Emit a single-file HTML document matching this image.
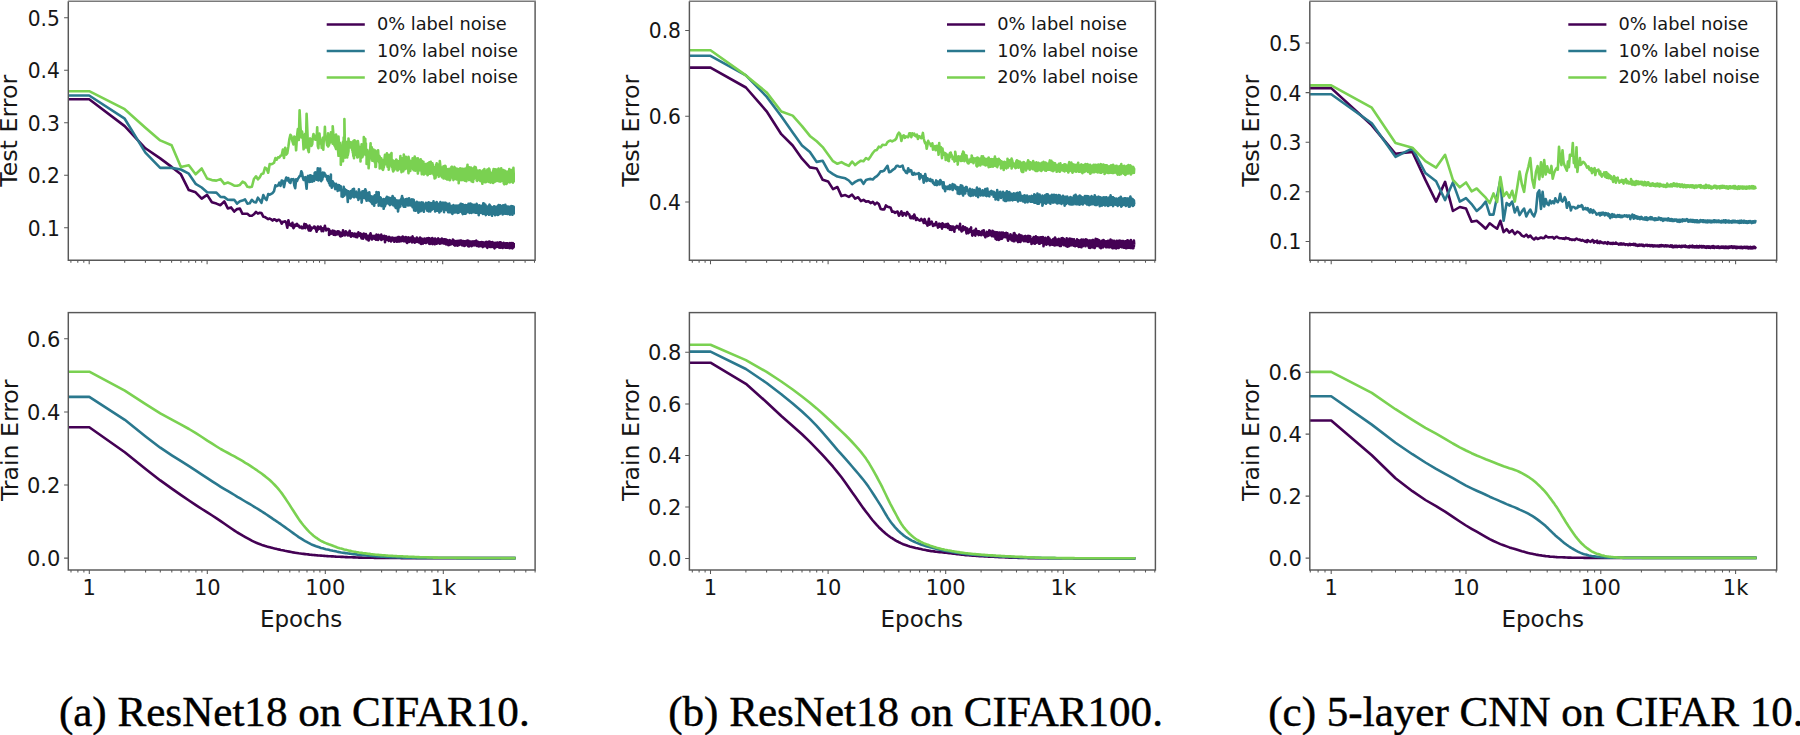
<!DOCTYPE html>
<html lang="en"><head><meta charset="utf-8"><title>Training curves with label noise</title>
<style>html,body{margin:0;padding:0;background:#fff;overflow:hidden}svg{display:block}.dv{font-family:"DejaVu Sans","Liberation Sans",sans-serif;fill:#161616}.cap{font-family:"Liberation Serif","DejaVu Serif",serif;fill:#000}.ln path{fill:none;stroke-linejoin:round;stroke-linecap:square}</style></head><body>
<svg width="1800" height="735" viewBox="0 0 1800 735">
<rect width="1800" height="735" fill="#fff"/>
<g class="dv" id="A1">
<g class="ln">
<path d="M69.6 99.2L89.2 99.2L124.7 126.1L145.4 148.3L160.2 158.4L171.6 166.9L180.9 174.3L188.8 190.1L195.6 192.3L201.7 198.6L207.1 194.9L211.9 202.3L216.4 203.6L220.5 205.2L224.3 201.4L227.8 208.4L231.1 207.4L234.2 211.6L237.1 209.1L239.9 208.6L242.5 213.8L245 213.7L247.4 213.8L249.7 215.7L251.9 215.7L253.9 214.3L256 211.9L257.9 213.6L259.7 212.8L261.5 213.1L263.3 216.7L265 217.1L266.6 218.1L268.2 219.1L269.7 218.5L271.2 219.4L272.6 220.6L274 219.2L275.4 219.8L276.7 221L278 219.9L279.3 219.9L280.5 221.2L281.7 223.7L282.9 221.9L284 221.7L285.2 221.3L286.3 223.1L287.3 227.7L288.4 220.2L289.4 224.9L290.4 224.1L291.4 226L292.4 222.8L293.4 228.1L294.3 226.9L295.2 224.6L296.1 225.7L297 223.9L297.9 225.9L298.8 225.6L299.6 227.4L300.4 227.2L301.3 226.7L302.1 228.3L302.9 228.2L303.6 227.6L304.4 223.9L305.2 228.1L305.9 224.4L306.6 225.3L307.4 226.9L308.1 228.6L308.8 230.4L309.5 225.5L310.2 230.7L310.9 230.3L311.5 227.6L312.2 228.3L312.8 227.9L313.5 227.7L314.1 226.5L314.7 226.7L315.4 228.7L316 229.2L316.6 231.7L317.2 228.1L317.8 226.5L318.4 229.4L318.9 227.8L319.5 228.7L320.1 227.3L320.6 226.6L321.2 228.9L321.7 231.1L322.3 230.6L322.8 228.3L323.3 231.1L323.9 227.7L324.4 229.1L324.9 225.8L325.4 228.9L326.2 228.6L326.2 230.4L327.2 229.3L327.2 229.6L328.1 229.3L328.1 228.8L329.1 229.4L329.1 235L330 230.7L330 234L330.9 231.4L330.9 233.7L331.8 233.3L331.8 231.9L332.7 230.8L332.7 230.5L333.6 234.7L333.6 231.1L334.4 231L334.4 234.6L335.3 235L335.3 233.1L336.1 232.4L336.1 231.8L336.9 234.4L336.9 233.3L337.7 231.4L337.7 233.1L338.5 234L338.5 231.4L339.3 231.7L339.3 234.1L340.1 236L340.1 234.2L340.8 233L340.8 236.4L341.6 232.7L341.6 233.6L342.3 234.9L342.3 235.8L343 234.9L343 230.2L343.7 234.9L343.7 234.5L344.4 233.5L344.4 234.5L345.1 235.3L345.1 233.9L345.8 232.6L345.8 231.3L346.5 234.3L346.5 234L347.2 233.9L347.2 233.2L347.8 235L347.8 235.5L348.5 234.9L348.5 232.4L349.1 235L349.1 234L349.7 230.7L349.7 235.5L350.4 232.8L350.4 234L351 236.8L351 236L351.6 234.4L351.6 234L352.2 235.7L352.2 233.2L352.8 235.5L352.8 234.8L353.4 236.1L353.4 235L354 233.9L354 236.1L354.6 235.1L354.6 233.5L355.1 234.6L355.1 234.1L355.7 235.7L355.7 237L356.2 235.6L356.2 233.8L356.8 235L356.8 236L357.3 237.2L357.3 234.2L357.9 236L357.9 235.4L358.4 232.4L358.4 233.6L358.9 234.9L359.5 234.6L359.5 234.4L360 235.8L360 234.5L360.5 233.4L360.5 235.8L361 234L361 236.3L361.6 238.3L361.6 234.2L362.4 234.4L362.4 238L363.1 235.6L363.1 238.7L363.8 237.1L363.8 233.5L364.6 234.8L364.6 236.7L365.3 234.5L365.3 236L365.9 234L365.9 237.5L366.6 239.2L366.6 236.9L367.3 235.6L367.3 237.6L368 236L368 239.7L368.6 238.4L368.6 240.5L369.3 238.5L369.3 236.5L369.9 234.7L369.9 236.4L370.6 233.3L370.6 237.8L371.2 234.9L371.2 238L371.8 236.1L371.8 239.5L372.4 237.8L373 237.4L373 236L373.6 238.4L373.6 236.1L374.2 238.7L374.2 236.7L374.8 237.2L374.8 237.9L375.4 238.4L375.4 235.5L375.9 236.4L375.9 239.7L376.5 234.6L376.5 239.7L377 239.2L377 237.5L377.6 238.2L377.6 236.9L378.1 240L378.1 236.9L378.7 234.9L378.7 236.3L379.2 238L379.2 236.3L379.7 236.3L379.7 238.5L380.3 235.9L380.3 237.8L380.8 236.7L380.8 239.3L381.3 234.6L381.3 239.9L381.8 237.3L381.8 239.2L382.4 237.5L382.4 239.2L383.1 238.3L383.1 236.4L383.7 236.6L383.7 239L384.4 238L384.4 235.8L385 238L385 242.2L385.6 239L385.6 237.7L386.2 239.4L386.2 236.2L386.9 238.3L386.9 239.7L387.5 239.7L387.5 237.4L388.1 237.9L388.1 239.1L388.7 240.8L388.7 238L389.2 240L389.2 236.9L389.8 237.4L389.8 239.7L390.4 239.4L390.4 238L391 241.4L391 238.8L391.5 240.8L391.5 237.7L392.1 239.2L392.1 238.5L392.6 239.4L392.6 237.6L393.2 238.3L393.2 239.2L393.7 238.1L393.7 240.8L394.2 238.1L394.2 241.7L394.8 240L394.8 238.2L395.3 238.1L395.3 240.9L395.8 239.6L395.8 238.8L396.3 239.9L396.3 237.8L396.8 237.9L396.8 241.8L397.4 241.3L397.4 238.1L398 237.2L398 239.5L398.6 237.2L398.6 241.4L399.2 237L399.2 239.6L399.8 241.4L399.8 237.5L400.4 239L400.4 240.1L401 237.5L401 239.4L401.5 238.4L401.5 241.1L402.1 239L402.1 239.9L402.7 236.6L402.7 239.8L403.2 236.9L403.2 240.4L403.8 241.2L403.8 237.3L404.3 241.3L404.3 240.4L404.9 238.5L404.9 240.2L405.4 239.6L405.4 240.6L405.9 237.1L405.9 240.6L406.4 238.1L406.4 241.9L407 243L407 239.4L407.5 238.2L407.5 241.5L408 239.4L408 241.5L408.5 240L408.5 237.4L409.1 237.9L409.1 242L409.7 238.7L409.7 240.5L410.3 241.1L410.3 237.7L410.9 240.5L410.9 237.9L411.4 237.6L411.4 241.3L412 242.3L412 238L412.6 236.4L412.6 241.4L413.1 241.6L413.1 238.4L413.7 240.7L413.7 238.3L414.2 242.1L414.2 239.4L414.7 238.9L414.7 242.7L415.3 238.8L415.3 241.8L415.8 238.7L415.8 240.1L416.3 241.8L416.3 239.2L416.8 237.6L416.8 241L417.3 238.1L417.3 241.6L417.9 241.9L417.9 240L418.4 241.8L418.4 239.2L419 242.5L419 238.7L419.6 242.1L419.6 240.1L420.1 237.5L420.1 242.2L420.7 239L420.7 243.6L421.2 243.9L421.2 239.5L421.8 238.5L421.8 241.7L422.3 242L422.3 239.8L422.9 243.6L422.9 239.7L423.4 239.3L423.4 241.9L423.9 242.3L423.9 240.8L424.4 242.7L424.4 238.6L424.9 242.3L424.9 238.9L425.4 239.2L425.4 242.4L426 240.3L426 243.1L426.5 241.8L426.5 238.6L427.1 242.1L427.1 238.4L427.6 238.6L427.6 240.7L428.2 238.9L428.2 241.3L428.7 238.1L428.7 242.8L429.3 243.7L429.3 240.5L429.8 243.9L429.8 238.6L430.3 243.8L430.3 240.1L430.8 240.3L430.8 242.7L431.4 243L431.4 240.1L431.9 238.3L431.9 243.6L432.4 244L432.4 238L432.9 243.3L432.9 238.7L433.5 242.4L433.5 239.6L434 242.7L434 239.6L434.6 239.6L434.6 244.3L435.1 238.6L435.1 243L435.6 242.5L435.6 239L436.1 241.2L436.1 243L436.7 243.7L436.7 240L437.2 242.8L437.2 239.9L437.7 242.1L437.7 239.4L438.2 238.4L438.2 243L438.7 239.4L438.7 242.9L439.3 242.5L439.3 240.1L439.8 243.7L439.8 239.5L440.4 239.6L440.4 241.5L440.9 242.7L440.9 239.7L441.4 243.1L441.4 240L441.9 242.2L441.9 238.5L442.5 240.1L442.5 242.8L443 243.1L443 239.5L443.5 243.5L443.5 240.6L444 242.6L444 239.2L444.6 239.5L444.6 242.5L445.1 242.9L445.1 239.9L445.6 239.4L445.6 244L446.2 240.6L446.2 244.4L446.7 239.8L446.7 243.8L447.2 243.6L447.2 240.1L447.7 240.3L447.7 244.5L448.2 241.8L448.2 245.1L448.7 243.2L448.7 241.2L449.3 244.9L449.3 241.1L449.8 240.1L449.8 243.9L450.3 243.9L450.3 241.1L450.9 241.1L450.9 244.5L451.4 243.9L451.4 241.9L451.9 242.3L451.9 243.9L452.4 240.6L452.4 243.5L452.9 242.5L452.9 239.5L453.4 240.7L453.4 243.8L454 245L454 241.2L454.5 244.4L454.5 240.9L455 241.3L455 245.6L455.5 245.4L455.5 242L456.1 244.9L456.1 241L456.6 241.2L456.6 244.9L457.1 244.8L457.1 241.5L457.6 242L457.6 245.7L458.1 244.7L458.1 240.7L458.7 241.4L458.7 245.1L459.2 241.2L459.2 245L459.7 241.5L459.7 244.2L460.2 244.1L460.2 240.6L460.7 243.5L460.7 241L461.2 244.4L461.2 240.6L461.8 241.1L461.8 244.9L462.3 241.4L462.3 245.4L462.8 241.2L462.8 244.6L463.3 244.3L463.3 241L463.8 242.3L463.8 245.2L464.3 241.4L464.3 246L464.9 242L464.9 244.4L465.4 245.3L465.4 241.5L465.9 244.6L465.9 241.2L466.4 241L466.4 243.8L466.9 243.8L466.9 241.3L467.5 244.6L467.5 240.6L468 241.9L468 246.1L468.5 245.7L468.5 240.7L469 242.4L469 246.5L469.5 244.5L469.5 241.2L470 241.8L470 245.3L470.5 241.5L470.5 245.5L471 245.6L471 242.3L471.6 241.8L471.6 246.2L472.1 245L472.1 241.6L472.6 245.5L472.6 241.8L473.1 241.3L473.1 245.3L473.6 241.5L473.6 244.9L474.1 245.4L474.1 241.5L474.6 244.5L474.6 241.3L475.2 241.7L475.2 245.1L475.7 244.8L475.7 241.5L476.2 240.7L476.2 243.8L476.7 242.2L476.7 245.8L477.2 246L477.2 242.6L477.7 244.5L477.7 241.7L478.2 242L478.2 245.5L478.7 246.3L478.7 243.2L479.3 242.7L479.3 245.1L479.8 246.1L479.8 242.3L480.3 242.6L480.3 245.4L480.8 245.6L480.8 242.3L481.3 246L481.3 243.1L481.8 245.5L481.8 242.1L482.3 242.5L482.3 246.4L482.8 242.9L482.8 247.1L483.3 245.8L483.3 242.4L483.9 242.6L483.9 245.9L484.4 242.8L484.4 246.2L484.9 243.1L484.9 246.2L485.4 242.6L485.4 246.3L485.9 242.1L485.9 245.8L486.4 246.4L486.4 241.9L486.9 242L486.9 246.3L487.4 247.8L487.4 242.9L488 245.4L488 242.5L488.5 241.9L488.5 245.7L489 246.5L489 243.2L489.5 245.5L489.5 241.6L490 242.6L490 246.9L490.5 242.1L490.5 246.5L491 242.8L491 246L491.5 242.4L491.5 246.9L492 246.4L492 243.2L492.5 245.9L492.5 242.1L493.1 244L493.1 246.8L493.6 247.3L493.6 243.3L494.1 242.9L494.1 247L494.6 248.3L494.6 243.7L495.1 247L495.1 243.6L495.6 242.9L495.6 246.6L496.1 243L496.1 246.7L496.6 242.8L496.6 246.9L497.1 246.6L497.1 242.7L497.6 242.5L497.6 246.6L498.1 246.8L498.1 244L498.6 243.1L498.6 246.5L499.2 247.6L499.2 243.1L499.7 242.3L499.7 247.1L500.2 244L500.2 247.3L500.7 247.6L500.7 242.4L501.2 247.4L501.2 243.6L501.7 244.1L501.7 247.5L502.2 247.4L502.2 243.5L502.7 248L502.7 243.9L503.2 243L503.2 246.4L503.7 242.9L503.7 246.9L504.2 247L504.2 243.4L504.7 246.4L504.7 243.4L505.3 243.7L505.3 247.8L505.8 247.4L505.8 243.4L506.3 243.4L506.3 247.8L506.8 246.6L506.8 243.2L507.3 243.7L507.3 246.9L507.8 243.3L507.8 247.7L508.3 243.8L508.3 247.2L508.8 243.8L508.8 247.4L509.3 248.1L509.3 244L509.8 243.2L509.8 247.5L510.3 247.7L510.3 244L510.8 244.2L510.8 248L511.3 247.3L511.3 243L511.8 244.3L511.8 247.8L512.4 248.4L512.4 243.9L512.9 243.1L512.9 247L513.4 244.4L513.4 247.6L513.7 246.9L513.7 244.3" stroke="#440154" stroke-width="2.6"/>
<path d="M69.6 95.5L89.2 95.5L124.7 118.7L145.4 152.6L160.2 167.9L171.6 167.9L180.9 169.5L188.8 173.7L195.6 183.8L201.7 187.5L207.1 192.3L211.9 192.5L216.4 192.6L220.5 196.9L224.3 197.1L227.8 199.8L231.1 199.9L234.2 199.8L237.1 203.6L239.9 201.3L242.5 200.6L245 199.4L247.4 203.7L249.7 203.3L251.9 199.8L253.9 201.9L256 202.4L257.9 197.7L259.7 200L261.5 202.8L263.3 195.1L265 198.4L266.6 200L268.2 194L269.7 194.7L271.2 193.8L272.6 193.1L274 191.2L275.4 185.2L276.7 186.1L278 185.5L279.3 182.7L280.5 185.9L281.7 180.5L282.9 180.9L284 187.1L285.2 180.9L286.3 177.5L287.3 180.4L288.4 178.2L289.4 182.3L290.4 183L291.4 179.2L292.4 179.5L293.4 179.1L294.3 185.4L295.2 188.2L296.1 179.4L297 181L297.9 178.7L298.8 177.4L299.6 176.1L300.4 175.9L301.3 171.2L302.1 173.1L302.9 177.8L303.6 179.9L304.4 177.9L305.2 177.1L305.9 182.6L306.6 188.8L307.4 177.1L308.1 175.8L308.8 177.9L309.5 182L310.2 175.2L310.9 181.6L311.5 175.7L312.2 181.7L312.8 176.6L313.5 176.8L314.1 181L314.7 172.8L315.4 172.3L316 179L316.6 179.7L317.2 176.5L317.8 168.2L318.4 180.4L318.9 179.3L319.5 177.1L320.1 168.5L320.6 180.1L321.2 181.2L321.7 176.5L322.3 179.7L322.8 172.6L323.3 177L323.9 174.4L324.4 172.9L324.9 175.5L325.4 174.6L326.2 176.7L327.2 178.1L327.2 179.5L328.1 181.2L328.1 176.1L329.1 183.2L329.1 177.8L330 185.3L330 185.5L330.9 174.6L330.9 182.2L331.8 187.7L331.8 187.5L332.7 183.4L332.7 181.4L333.6 184.4L333.6 182.7L334.4 185.9L334.4 185.2L335.3 189.1L335.3 187.3L336.1 183.7L336.1 184.2L336.9 185.5L336.9 189L337.7 186.3L337.7 190.9L338.5 185.1L338.5 190L339.3 185.2L339.3 190.3L340.1 190L340.1 190.3L340.8 186.4L340.8 189.1L341.6 189.6L341.6 196.4L342.3 190.4L342.3 194.3L343 196.8L343 191.4L343.7 192.7L343.7 186.9L344.4 191.1L344.4 195.6L345.1 189.3L345.1 194.4L345.8 194.3L346.5 190.4L346.5 192.9L347.2 191L347.2 192.8L347.8 201.9L347.8 191.4L348.5 191.3L348.5 195.7L349.1 194.6L349.1 196.8L349.7 192.7L349.7 192.3L350.4 192.8L350.4 198.5L351 197.3L351 191.1L351.6 191.2L351.6 192.5L352.2 190.6L352.2 191.2L352.8 196.5L352.8 189.3L353.4 192.5L353.4 194.8L354 188.7L354 197.2L354.6 195.6L354.6 192.6L355.1 196.4L355.1 194.9L355.7 192.6L355.7 192L356.2 191.7L356.2 192.3L356.8 193.8L356.8 197.2L357.3 195.8L357.3 196.4L357.9 193.7L357.9 196.3L358.4 194.6L358.4 199.9L358.9 196.4L358.9 189.4L359.5 195.2L359.5 193.3L360 198.3L360 193.5L360.5 196.6L360.5 196.2L361 192.5L361 193.9L361.6 192.5L361.6 202.6L362.4 196.7L362.4 191.4L363.1 197.8L363.1 192.8L363.8 191.2L363.8 196.8L364.6 194.6L364.6 197.9L365.3 189.2L365.3 197.5L365.9 199L365.9 190.5L366.6 195.9L366.6 200.8L367.3 193.4L367.3 198.8L368 196.2L368 196.8L368.6 197.1L368.6 192.9L369.3 200.6L369.3 192.3L369.9 199.4L369.9 195.4L370.6 196.7L370.6 201.5L371.2 196.3L371.2 202.2L371.8 197.8L371.8 201.6L372.4 203.9L372.4 198.2L373 200.3L373 196.6L373.6 204.5L373.6 200.2L374.2 199.3L374.2 205.7L374.8 195.2L374.8 202.8L375.4 196.9L375.4 200.7L375.9 202.7L375.9 196.1L376.5 200.6L376.5 192.1L377 201.4L377 199.3L377.6 200.7L377.6 196.5L378.1 198.5L378.1 196.3L378.7 192.2L378.7 205.7L379.2 202.8L379.2 199.9L379.7 199.7L379.7 201.7L380.3 197.2L380.3 200.7L380.8 197.8L380.8 203.4L381.3 201.1L381.3 206.1L381.8 203.6L381.8 200.9L382.4 204.5L382.4 199.9L383.1 205.1L383.1 201.5L383.7 208.8L383.7 199.1L384.4 200.3L384.4 206.8L385 206L385 203.3L385.6 204.6L385.6 199.3L386.2 198.1L386.2 200.9L386.9 202.7L386.9 196.7L387.5 203.1L387.5 197.5L388.1 203L388.1 197.6L388.7 203.7L388.7 198.5L389.2 203.7L389.2 197.9L389.8 199.7L389.8 205.1L390.4 204.1L390.4 198.3L391 204.3L391 198.1L391.5 203.8L391.5 200.7L392.1 200.1L392.1 201.7L392.6 202.9L392.6 196L393.2 205.1L393.2 198.9L393.7 202.7L393.7 198.8L394.2 203L394.2 198L394.8 198.3L394.8 206.5L395.3 206.5L395.3 201.6L395.8 208L395.8 201.1L396.3 205.2L396.3 201.3L396.8 200.3L396.8 206.6L397.4 203.6L397.4 208.8L398 200.8L398 211.5L398.6 206.2L398.6 203.6L399.2 200.5L399.2 207.3L399.8 206.9L399.8 200.7L400.4 206.3L400.4 202.2L401 204L401 199.2L401.5 202.2L401.5 199.2L402.1 196L402.1 203.1L402.7 202.8L402.7 198L403.2 205.6L403.2 203.8L403.8 200.8L403.8 206.7L404.3 204.2L404.3 200.8L404.9 204.8L404.9 199.9L405.4 206.7L405.4 199.2L405.9 201.9L405.9 203.6L406.4 204.5L406.4 199.6L407 198.8L407 202.2L407.5 203.5L407.5 200.3L408 205.5L408 200.7L408.5 204.6L408.5 199.1L409.1 205.1L409.1 198.4L409.7 199.7L409.7 204.9L410.3 202.8L410.3 205.3L410.9 201.8L410.9 205.5L411.4 200.8L411.4 204.2L412 204L412 199.2L412.6 200.2L412.6 207.3L413.1 199.7L413.1 205.2L413.7 199.8L413.7 206.3L414.2 210.5L414.2 204.5L414.7 208.9L414.7 202.7L415.3 202.8L415.3 210.7L415.8 210.7L415.8 204.6L416.3 204L416.3 209.6L416.8 209L416.8 201.8L417.3 208.6L417.3 204.8L417.9 207.1L417.9 202.8L418.4 212.6L418.4 207.3L419 211.7L419 202.6L419.6 208.8L419.6 202.9L420.1 203.2L420.1 210.1L420.7 204.8L420.7 211.3L421.2 202.5L421.2 208.2L421.8 202.5L421.8 210.4L422.3 209.9L422.3 206L422.9 209.8L422.9 202.5L423.4 204.6L423.4 210.4L423.9 211.7L423.9 205.2L424.4 208.4L424.4 205.3L424.9 208.3L424.9 204.3L425.4 204.6L425.4 208.2L426 202.9L426 208.6L426.5 203.3L426.5 208.7L427.1 203.7L427.1 210.6L427.6 205.6L427.6 210.1L428.2 202.8L428.2 209.6L428.7 211.3L428.7 202.2L429.3 210.1L429.3 203.8L429.8 210L429.8 206.1L430.3 206.5L430.3 211.4L430.8 203L430.8 208.6L431.4 204.6L431.4 208.4L431.9 209.8L431.9 203.3L432.4 203.7L432.4 209.2L432.9 204.2L432.9 208.8L433.5 201.4L433.5 208.3L434 203.7L434 207.2L434.6 209.1L434.6 202.8L435.1 204.5L435.1 211.4L435.6 211L435.6 205.7L436.1 203.8L436.1 209.1L436.7 209L436.7 202L437.2 203.7L437.2 210.8L437.7 208.7L437.7 204.9L438.2 204.6L438.2 209L438.7 210.9L438.7 204.6L439.3 203.6L439.3 212.5L439.8 203.5L439.8 209.1L440.4 202.1L440.4 210.4L440.9 204.1L440.9 211.1L441.4 208.6L441.4 203.2L441.9 209L441.9 203.6L442.5 208.7L442.5 203.6L443 202.7L443 207.4L443.5 206.6L443.5 209.7L444 203.3L444 212.1L444.6 202.7L444.6 208.1L445.1 209.4L445.1 204.2L445.6 202.8L445.6 209.5L446.2 209.7L446.2 204.2L446.7 210.2L446.7 203.9L447.2 209.5L447.2 203.7L447.7 209.2L447.7 204.9L448.2 205.9L448.2 212.3L448.7 210.8L448.7 205.5L449.3 203.6L449.3 209.7L449.8 205.2L449.8 212.2L450.3 205.5L450.3 211.1L450.9 210.1L450.9 206.2L451.4 211.4L451.4 207.4L451.9 206.2L451.9 212.9L452.4 213.9L452.4 206L452.9 210.7L452.9 206L453.4 205.2L453.4 212L454 205.5L454 210.3L454.5 205.7L454.5 212.4L455 207.9L455 212.5L455.5 206.4L455.5 210.5L456.1 205.5L456.1 210.9L456.6 206L456.6 212.1L457.1 211.7L457.1 206.5L457.6 206.1L457.6 213L458.1 211.1L458.1 205.6L458.7 212.6L458.7 206.3L459.2 211L459.2 205.7L459.7 205.2L459.7 211L460.2 204.7L460.2 210L460.7 211.1L460.7 203.8L461.2 211.8L461.2 205.6L461.8 204.1L461.8 211.2L462.3 206.5L462.3 212.9L462.8 214.1L462.8 204.3L463.3 205.2L463.3 211.5L463.8 205.7L463.8 211.6L464.3 205.2L464.3 213.8L464.9 205.5L464.9 211.6L465.4 205.1L465.4 213.8L465.9 213.2L465.9 206.8L466.4 205.9L466.4 212.6L466.9 207.7L466.9 211.8L467.5 205.1L467.5 211.7L468 209L468 205.9L468.5 210.2L468.5 203.8L469 204.2L469 212L469.5 204L469.5 212.9L470 205.9L470 211.8L470.5 203.5L470.5 212.4L471 205.6L471 211.3L471.6 212.8L471.6 206.3L472.1 204.5L472.1 211.4L472.6 212.1L472.6 205.5L473.1 204.8L473.1 209.9L473.6 211.5L473.6 206.4L474.1 205.7L474.1 212.2L474.6 204.7L474.6 212L475.2 212.2L475.2 205.7L475.7 212.8L475.7 207.1L476.2 211.7L476.2 207.2L476.7 203.9L476.7 212.7L477.2 210.3L477.2 205.2L477.7 212.3L477.7 206.3L478.2 207L478.2 211.1L478.7 207.6L478.7 215.1L479.3 205.4L479.3 213L479.8 213L479.8 207.7L480.3 211.4L480.3 205.7L480.8 206.1L480.8 212.7L481.3 205.9L481.3 212.7L481.8 206.5L481.8 212.4L482.3 206.3L482.3 213.1L482.8 213.9L482.8 207.1L483.3 211.2L483.3 203.3L483.9 206.3L483.9 210.7L484.4 211.7L484.4 203.9L484.9 206.8L484.9 213.9L485.4 204.7L485.4 212.9L485.9 215.1L485.9 208.4L486.4 206.5L486.4 212.3L486.9 212.8L486.9 206.7L487.4 213.6L487.4 206.7L488 213.4L488 207.2L488.5 213.1L488.5 206.6L489 214.8L489 206L489.5 204.7L489.5 212.1L490 205.6L490 213.6L490.5 206.9L490.5 214.3L491 212.1L491 206.5L491.5 213.5L491.5 207.6L492 207.7L492 215.8L492.5 207.3L492.5 213.1L493.1 213.7L493.1 207.2L493.6 206.9L493.6 213.6L494.1 206.3L494.1 213L494.6 213.3L494.6 207.1L495.1 206.9L495.1 215.3L495.6 213.1L495.6 207.9L496.1 213.7L496.1 207.7L496.6 213.5L496.6 206.7L497.1 208.5L497.1 214.6L497.6 206.8L497.6 213.7L498.1 214.9L498.1 206.1L498.6 205L498.6 213.9L499.2 206.8L499.2 212.2L499.7 205.6L499.7 214L500.2 205.4L500.2 211.9L500.7 212.5L500.7 205.9L501.2 206.1L501.2 213.3L501.7 213.2L501.7 206.5L502.2 206.7L502.2 213.3L502.7 205.8L502.7 214.5L503.2 212.3L503.2 205.2L503.7 205.8L503.7 212.2L504.2 207.6L504.2 212.5L504.7 208L504.7 213.6L505.3 204.7L505.3 213.3L505.8 212.4L505.8 207.3L506.3 206.3L506.3 213.7L506.8 206.8L506.8 213.8L507.3 206.7L507.3 214L507.8 213.2L507.8 207.8L508.3 206.6L508.3 211.4L508.8 207.6L508.8 213.4L509.3 214L509.3 207.7L509.8 206.8L509.8 214.6L510.3 208.2L510.3 213.9L510.8 208.5L510.8 214.3L511.3 214.2L511.3 206L511.8 206.9L511.8 214.3L512.4 214.7L512.4 206.4L512.9 206.6L512.9 213.6L513.4 213.3L513.4 206.5L513.7 207L513.7 213.2" stroke="#2a788e" stroke-width="2.6"/>
<path d="M69.6 91.2L89.2 91.2L124.7 109.2L145.4 127.7L160.2 140.4L171.6 145.2L180.9 166.9L188.8 165.3L195.6 174.3L201.7 168.5L207.1 178.5L211.9 180.1L216.4 180.6L220.5 179.1L224.3 183.9L227.8 182.5L231.1 183.9L234.2 185.7L237.1 185.8L239.9 184.9L242.5 181.7L245 183L247.4 186.7L249.7 187.1L251.9 186.8L253.9 179L256 176.3L257.9 179.3L259.7 177.4L261.5 174L263.3 173.6L265 167.7L266.6 168.6L268.2 172.7L269.7 164L271.2 164.2L272.6 163.8L274 162.8L275.4 158.1L276.7 159.7L278 157.3L279.3 157.5L280.5 155.8L281.7 155.3L282.9 149.5L284 158L285.2 147.7L286.3 154.6L287.3 153.2L288.4 146.4L289.4 139L290.4 134.8L291.4 136.3L292.4 141.2L293.4 144.4L294.3 136.6L295.2 137.6L296.1 150.3L297 136.5L297.9 129L298.8 140L299.6 110.3L300.4 126.1L301.3 137.4L302.1 131.6L302.9 137.4L303.6 149.3L304.4 137.5L305.2 133.8L305.9 147.4L306.6 113.9L307.4 131.7L308.1 149.8L308.8 152.1L309.5 141.3L310.2 138.4L310.9 145.1L311.5 145.8L312.2 144.3L312.8 137.7L313.5 134L314.1 137.2L314.7 138.6L315.4 139.7L316 135.5L316.6 139.6L317.2 127.4L317.8 146L318.4 148.2L318.9 136.3L319.5 133.5L320.1 141.5L320.6 143.3L321.2 140.2L321.7 148L322.3 140.6L322.8 137.9L323.3 149.6L323.9 137.2L324.4 138.4L324.9 126.7L325.4 139.1L326.2 138.3L326.2 139L327.2 145.4L327.2 143.3L328.1 133.4L328.1 146.5L329.1 144.9L329.1 144.3L330 142L330 142.6L330.9 132.4L330.9 133.4L331.8 137.6L332.7 143.7L332.7 126.2L333.6 136.8L333.6 134.6L334.4 145.5L334.4 141.1L335.3 142.5L335.3 146.8L336.1 149L336.1 134.6L336.9 140.1L336.9 148.7L337.7 149.7L337.7 146.5L338.5 155.8L338.5 136.5L339.3 149.5L339.3 143.1L340.1 147.3L340.1 142.9L340.8 147.8L340.8 164.8L341.6 153.8L341.6 151.8L342.3 159.1L342.3 152.8L343 161.2L343 141.9L343.7 140.6L343.7 137.6L344.4 142.8L344.4 119.1L345.1 157.6L345.1 151.2L345.8 150.9L345.8 149.9L346.5 149.5L347.2 141.7L347.2 157.5L347.8 146L347.8 155.4L348.5 151.4L348.5 138.6L349.1 146L349.1 146.8L349.7 144.8L349.7 145.8L350.4 147.5L350.4 143.8L351 142.2L351 146.7L351.6 145.6L351.6 145.2L352.2 150.2L352.2 147.4L352.8 152.5L352.8 150.4L353.4 156L353.4 141L354 158.2L354 145.7L354.6 150.4L354.6 140.2L355.1 143.1L355.1 149.9L355.7 146.9L355.7 147.6L356.2 147.8L356.2 155L356.8 141.5L356.8 149.6L357.3 157.5L357.3 147.9L357.9 157.2L357.9 141.1L358.4 145L358.4 149.6L358.9 146.5L359.5 153.8L359.5 146.8L360 153.1L360 152.8L360.5 151.2L360.5 161.5L361 148.1L361 158L361.6 144.2L361.6 151.1L362.4 145.7L362.4 157.2L363.1 149.8L363.1 155.7L363.8 151.4L363.8 137.1L364.6 152.8L364.6 143.9L365.3 138.8L365.3 149.7L365.9 143.4L365.9 155.1L366.6 150.7L366.6 164L367.3 150L367.3 156.6L368 156.1L368 151.6L368.6 151.7L368.6 168.3L369.3 158.6L369.3 160.8L369.9 157.7L369.9 153L370.6 143.4L370.6 156.5L371.2 152.1L371.2 158L371.8 147.2L371.8 153.4L372.4 160.8L372.4 151.7L373 155.5L373 150.3L373.6 157L373.6 149.6L374.2 153.6L374.2 158.3L374.8 162.6L374.8 152.8L375.4 150.6L375.4 167L375.9 152.4L375.9 166.9L376.5 156.3L376.5 159L377 151.2L377 161.1L377.6 159.8L377.6 156.7L378.1 154.6L378.1 150.4L378.7 160.5L378.7 156.3L379.2 162.7L379.2 155.9L379.7 156.7L379.7 168.5L380.3 158.7L380.3 166.3L380.8 162.4L380.8 167.9L381.3 165.9L381.3 158.2L381.8 161.7L381.8 163.4L382.4 169.2L382.4 160L383.1 160.7L383.1 169.9L383.7 164.2L383.7 167.9L384.4 163.7L384.4 160L385 154.7L385 163.1L385.6 164.2L385.6 160.8L386.2 156.8L386.2 164.2L386.9 153.3L386.9 163.6L387.5 156.4L387.5 166.7L388.1 160.9L388.1 164.8L388.7 157.9L388.7 169.7L389.2 167.3L389.2 154.8L389.8 155.5L389.8 165.7L390.4 165.2L390.4 158L391 161.1L391 154.4L391.5 153L391.5 161.8L392.1 167.2L392.1 159.9L392.6 161.5L392.6 168.9L393.2 171.5L393.2 163.7L393.7 160.7L393.7 165.9L394.2 162.7L394.2 170.1L394.8 161.4L394.8 167.7L395.3 161L395.3 167.4L395.8 161.7L395.8 164.6L396.3 159.5L396.3 166.2L396.8 169.2L396.8 160.3L397.4 170.4L397.4 163.4L398 170.3L398 161.3L398.6 165.4L398.6 161.4L399.2 169L399.2 163.4L399.8 168.4L399.8 163.3L400.4 156L400.4 166L401 160.9L401 164.9L401.5 172.1L401.5 161.7L402.1 158.4L402.1 167.4L402.7 161L402.7 165.1L403.2 163.4L403.2 171.3L403.8 164.8L403.8 154.6L404.3 160.7L404.3 169.5L404.9 160.4L404.9 167L405.4 168.9L405.4 162.8L405.9 168.2L405.9 156.9L406.4 161.3L406.4 166L407 167.5L407 159.2L407.5 167.5L407.5 161.5L408 157.9L408 167.7L408.5 173.2L408.5 156.8L409.1 160.3L409.1 168.8L409.7 160.5L409.7 168.8L410.3 171L410.3 162.4L410.9 168.7L410.9 162.1L411.4 168L411.4 163.5L412 161.1L412 168.2L412.6 158.3L412.6 166.1L413.1 169.2L413.1 158.9L413.7 163L413.7 170.2L414.2 161.4L414.2 169.4L414.7 156.6L414.7 168.1L415.3 170.8L415.3 160.9L415.8 168.1L415.8 158.2L416.3 163.9L416.3 168.7L416.8 163.5L416.8 167.1L417.3 161.3L417.3 167.3L417.9 173.5L417.9 158.3L418.4 171.5L418.4 160.5L419 161.2L419 170.4L419.6 168.7L419.6 162.2L420.1 159.8L420.1 168.3L420.7 159.4L420.7 170.5L421.2 170.6L421.2 163.9L421.8 174.2L421.8 160.8L422.3 170.9L422.3 164.2L422.9 166.4L422.9 174L423.4 161.7L423.4 173.2L423.9 174.5L423.9 165.6L424.4 164.6L424.4 170.9L424.9 170.9L424.9 165.6L425.4 164L425.4 173.2L426 170.9L426 164.4L426.5 164.6L426.5 174L427.1 174L427.1 165L427.6 163.4L427.6 175.2L428.2 173.9L428.2 166.8L428.7 165.2L428.7 172L429.3 162.3L429.3 173.8L429.8 173.3L429.8 164.4L430.3 166.1L430.3 173.6L430.8 161.9L430.8 169.6L431.4 165.8L431.4 172.4L431.9 165.3L431.9 172.4L432.4 163.2L432.4 173.5L432.9 164.8L432.9 172.4L433.5 173.1L433.5 167L434 175.5L434 167.2L434.6 178.4L434.6 167.4L435.1 167.4L435.1 176.2L435.6 167.3L435.6 177.6L436.1 164.8L436.1 173.1L436.7 163.4L436.7 174.8L437.2 167.2L437.2 173L437.7 164.6L437.7 174.8L438.2 172.6L438.2 166.4L438.7 167.8L438.7 176.8L439.3 164.1L439.3 171L439.8 173.7L439.8 161.1L440.4 166.4L440.4 174.4L440.9 175.6L440.9 170.5L441.4 173.5L441.4 167.3L441.9 177.2L441.9 167.6L442.5 169.8L442.5 175.9L443 176.8L443 170.6L443.5 178.4L443.5 166.4L444 176L444 169.5L444.6 166.6L444.6 170.4L445.1 178.2L445.1 165.8L445.6 166.2L445.6 178.6L446.2 176.8L446.2 169.9L446.7 170.5L446.7 177.9L447.2 179.5L447.2 169.1L447.7 169.7L447.7 178.5L448.2 172.2L448.2 178.1L448.7 179.5L448.7 171.8L449.3 179L449.3 168.8L449.8 180.2L449.8 169.8L450.3 179.6L450.3 168.7L450.9 172.3L450.9 176.9L451.4 177.5L451.4 167.1L451.9 166.7L451.9 176.9L452.4 174.9L452.4 169.9L452.9 169.1L452.9 176.7L453.4 167.8L453.4 180.1L454 175.4L454 169.4L454.5 166.9L454.5 178.7L455 169.3L455 177.6L455.5 178.5L455.5 168.1L456.1 170.5L456.1 179.2L456.6 179.5L456.6 169L457.1 178.1L457.1 172.2L457.6 178.1L457.6 168.7L458.1 169.7L458.1 178.1L458.7 170.5L458.7 183.3L459.2 172.2L459.2 179.3L459.7 178.4L459.7 172.5L460.2 168.3L460.2 177.2L460.7 178L460.7 171.5L461.2 170.7L461.2 180.2L461.8 175.5L461.8 168.9L462.3 177.4L462.3 168.8L462.8 179.9L462.8 169.4L463.3 170.1L463.3 177.7L463.8 169.7L463.8 178.8L464.3 178.8L464.3 168.7L464.9 180.7L464.9 169.6L465.4 168.8L465.4 177.9L465.9 169.9L465.9 178.7L466.4 181.3L466.4 169.7L466.9 167.4L466.9 177L467.5 164.8L467.5 174.4L468 169.6L468 177.9L468.5 169.2L468.5 177.2L469 169.8L469 180.1L469.5 177.3L469.5 167.4L470 168.3L470 175.8L470.5 178.5L470.5 170.2L471 167.6L471 179.1L471.6 181.3L471.6 170.5L472.1 176.7L472.1 168.7L472.6 169.7L472.6 177.3L473.1 172L473.1 181.9L473.6 168.1L473.6 179.3L474.1 178.5L474.1 172.1L474.6 176.6L474.6 166.7L475.2 169.8L475.2 177.9L475.7 177.9L475.7 167.3L476.2 170.4L476.2 178.4L476.7 170.7L476.7 180.5L477.2 180.8L477.2 170.7L477.7 179.8L477.7 170.8L478.2 179.7L478.2 170.8L478.7 178.3L478.7 172.4L479.3 178.7L479.3 171L479.8 179.7L479.8 170.3L480.3 171.1L480.3 181.1L480.8 180.4L480.8 172.2L481.3 172.4L481.3 179.5L481.8 180.9L481.8 171.5L482.3 172.2L482.3 183.8L482.8 178.9L482.8 170.6L483.3 172L483.3 179.9L483.9 170.1L483.9 178.1L484.4 178L484.4 169.1L484.9 182.1L484.9 170.6L485.4 171.5L485.4 180.4L485.9 182.1L485.9 172.4L486.4 171.4L486.4 182L486.9 180.1L486.9 172.8L487.4 169.5L487.4 177.7L488 181.2L488 171.3L488.5 181.4L488.5 170.5L489 181.9L489 168.6L489.5 169.6L489.5 180L490 171.9L490 181.1L490.5 173.7L490.5 182.6L491 180.1L491 173L491.5 182.1L491.5 173L492 180.3L492 172.8L492.5 174.6L492.5 181.1L493.1 170.9L493.1 182.9L493.6 169L493.6 181.8L494.1 182L494.1 170.7L494.6 171.4L494.6 180.2L495.1 169.2L495.1 180.4L495.6 181.3L495.6 171.3L496.1 179.9L496.1 172L496.6 180.7L496.6 169.6L497.1 170.2L497.1 180.6L497.6 170.7L497.6 180.7L498.1 180.9L498.1 170.1L498.6 168.5L498.6 181.3L499.2 180.7L499.2 173.1L499.7 181.5L499.7 171.2L500.2 172.2L500.2 181.6L500.7 181.5L500.7 172.1L501.2 180.7L501.2 168.4L501.7 180.2L501.7 170L502.2 178.7L502.2 169.7L502.7 180.9L502.7 171.5L503.2 181.3L503.2 171.4L503.7 170.2L503.7 183.2L504.2 171.8L504.2 184.3L504.7 182.9L504.7 172.6L505.3 170.9L505.3 182.3L505.8 182L505.8 174.6L506.3 171.9L506.3 184L506.8 183.6L506.8 173.4L507.3 171.8L507.3 181.2L507.8 172.2L507.8 180.7L508.3 171.9L508.3 180.6L508.8 171L508.8 181.8L509.3 182.3L509.3 169.1L509.8 171.2L509.8 181.9L510.3 173.7L510.3 182.2L510.8 179.9L510.8 170.6L511.3 180.9L511.3 170L511.8 170.2L511.8 180.9L512.4 169.9L512.4 181.4L512.9 173.3L512.9 182.6L513.4 180.6L513.4 167.9L513.7 173.7L513.7 180.9" stroke="#7ad151" stroke-width="2.6"/>
</g>
<path d="M70.9 260.2v2.5M77.8 260.2v2.5M83.8 260.2v2.5M89.2 260.2v4.1M124.7 260.2v2.5M145.4 260.2v2.5M160.2 260.2v2.5M171.6 260.2v2.5M180.9 260.2v2.5M188.8 260.2v2.5M195.6 260.2v2.5M201.7 260.2v2.5M207.1 260.2v4.1M242.5 260.2v2.5M263.3 260.2v2.5M278 260.2v2.5M289.4 260.2v2.5M298.8 260.2v2.5M306.6 260.2v2.5M313.5 260.2v2.5M319.5 260.2v2.5M324.9 260.2v4.1M360.4 260.2v2.5M381.1 260.2v2.5M395.9 260.2v2.5M407.3 260.2v2.5M416.6 260.2v2.5M424.5 260.2v2.5M431.3 260.2v2.5M437.4 260.2v2.5M442.7 260.2v4.1M478.2 260.2v2.5M499 260.2v2.5M513.7 260.2v2.5M525.1 260.2v2.5M534.5 260.2v2.5M68.3 227.8h-4.2M68.3 175.3h-4.2M68.3 122.8h-4.2M68.3 70.3h-4.2M68.3 17.8h-4.2" stroke="#585858" stroke-width="1.05" fill="none"/>
<path d="M68.3 2V260.2H535.1V2" stroke="#585858" stroke-width="1.45" fill="none"/>
<rect x="67.9" y="0" width="468" height="1" fill="#bcbcbc"/>
<rect x="67.6" y="1" width="468.3" height="1" fill="#7a7a7a"/>
<text transform="translate(59.9 235.7) scale(1 1.07)" text-anchor="end" font-size="20.25">0.1</text>
<text transform="translate(59.9 183.2) scale(1 1.07)" text-anchor="end" font-size="20.25">0.2</text>
<text transform="translate(59.9 130.7) scale(1 1.07)" text-anchor="end" font-size="20.25">0.3</text>
<text transform="translate(59.9 78.2) scale(1 1.07)" text-anchor="end" font-size="20.25">0.4</text>
<text transform="translate(59.9 25.7) scale(1 1.07)" text-anchor="end" font-size="20.25">0.5</text>
<text transform="translate(17.4 130.8) rotate(-90)" text-anchor="middle" font-size="23.7">Test Error</text>
<path d="M326.7 24.5H364.8" stroke="#440154" stroke-width="2.6" fill="none"/>
<text x="376.9" y="30.3" font-size="17.8">0% label noise</text>
<path d="M326.7 51H364.8" stroke="#2a788e" stroke-width="2.6" fill="none"/>
<text x="376.9" y="56.8" font-size="17.8">10% label noise</text>
<path d="M326.7 77.5H364.8" stroke="#7ad151" stroke-width="2.6" fill="none"/>
<text x="376.9" y="83.3" font-size="17.8">20% label noise</text>
</g>
<g class="dv" id="A2">
<g class="ln">
<path d="M690.7 67.6L710.5 67.6L745.9 87.5L766.6 111.3L781.3 134.2L792.7 145.5L802 158.7L809.9 167.4L816.7 168.5L822.7 179.8L828.1 181.4L833 189.1L837.4 187L841.5 196.1L845.3 195.1L848.8 196.9L852.1 194.7L855.2 198.6L858.1 197.3L860.9 201.1L863.5 199.9L866 201.6L868.4 201.2L870.6 203.1L872.8 201.9L874.9 204.4L876.9 202.6L878.8 204L880.7 209L882.5 209.4L884.2 209.4L885.9 205.4L887.5 206.8L889.1 207.1L890.6 207.8L892.1 211.7L893.5 211.5L894.9 212.8L896.3 212L897.6 211.6L898.9 215.7L900.2 213.7L901.4 211.4L902.6 215.7L903.8 213.1L904.9 213.4L906 215.5L907.1 212.1L908.2 213.7L909.3 214.6L910.3 217.9L911.3 218.2L912.3 216.3L913.3 218.5L914.2 214.5L915.2 217.3L916.1 220L917 218.2L917.9 219.6L918.8 219.8L919.6 220.6L920.5 220.4L921.3 218.9L922.1 220.2L922.9 220.2L923.7 223L924.5 219L925.2 220.7L926 223.5L926.7 222.4L927.5 225.6L928.2 222.4L928.9 218.7L929.6 224.7L930.3 223.3L931 222.9L931.7 221.6L932.4 223.8L933 225.9L933.7 225.1L934.3 224.2L934.9 225.3L935.6 224.3L936.2 222.2L936.8 224.7L937.4 225.7L938 227.6L938.6 225.2L939.2 223.7L939.7 226.6L940.3 225.5L940.9 224.1L941.4 224L942 228.6L942.5 223.3L943.1 225.5L943.6 226.7L944.1 224.5L944.7 226L945.2 227L945.7 225.4L946.2 224.2L947 225.6L947 226.8L947.9 228L947.9 223.9L948.9 228.1L948.9 225.3L949.9 229.2L949.9 229.8L950.8 228.5L950.8 226.4L951.7 230L951.7 229.1L952.6 227.6L952.6 226.5L953.5 226.8L953.5 227.7L954.4 231.8L954.4 228.9L955.2 228.7L955.2 227.2L956.1 227.7L956.1 226.8L956.9 225.9L956.9 227.5L957.7 226.3L957.7 227.2L958.5 228L958.5 226.9L959.3 228.5L959.3 229.4L960.1 223.9L960.1 227.7L960.8 228.4L960.8 228.8L961.6 231.5L961.6 229.6L962.3 228.6L962.3 227.6L963.1 230.3L963.1 226.3L963.8 228.4L963.8 227.9L964.5 228.4L964.5 229.4L965.2 227.6L965.2 227.2L965.9 229.6L965.9 230L966.6 233.4L966.6 231.8L967.3 228.4L967.3 231.3L967.9 230L967.9 230.5L968.6 233.1L968.6 232.4L969.2 229.6L969.2 230.9L969.9 229.1L969.9 231.8L970.5 230.8L970.5 228.9L971.1 227.4L971.1 230.1L971.7 231L971.7 231.3L972.3 235.6L972.3 233L973 234.7L973 231.5L973.5 233.8L973.5 232.4L974.1 230.5L974.1 231.9L974.7 233L974.7 231.7L975.3 235.6L975.3 233.9L975.9 230.7L975.9 228.9L976.4 233.8L976.4 234.1L977 233.5L977 230.9L977.5 231.3L977.5 233.6L978.1 231.2L978.1 232.2L978.6 233.3L978.6 235.1L979.1 231.3L979.1 232.7L979.7 233.1L979.7 231.8L980.2 234.8L980.2 232.2L980.7 234.5L980.7 232.9L981.2 235.2L981.2 233.4L981.7 232.5L982.4 230.8L982.4 233.9L983.1 232.7L983.1 233.5L983.8 230.3L983.8 235.2L984.6 233.9L984.6 235.3L985.3 233.7L985.3 237.3L986 234.7L986 233.8L986.7 233.5L986.7 231.7L987.3 232.9L987.3 236.1L988 233.1L988 233.8L988.7 235.6L988.7 232.5L989.3 234.4L989.3 230.4L990 231.3L990 230.9L990.6 235L990.6 233.3L991.3 233.4L991.3 234.9L991.9 236.2L991.9 234.5L992.5 233.7L992.5 230.9L993.1 233.4L993.1 231.2L993.7 236.4L993.7 232.9L994.3 233.5L994.3 234.9L994.9 232.1L994.9 233.4L995.5 234.4L995.5 238.7L996 234.4L996 236.4L996.6 232.2L996.6 239.6L997.2 232.6L997.2 236.3L997.7 234.6L997.7 232.5L998.3 236.6L998.3 233.2L998.8 234.9L998.8 240L999.4 232.6L999.4 236.6L999.9 237.9L999.9 234.2L1000.4 234.8L1000.4 237.6L1001 235.5L1001 238.9L1001.5 238L1001.5 232.6L1002 236.4L1002 238.7L1002.5 233.8L1002.5 235.7L1003.1 234.7L1003.1 232.5L1003.7 233.6L1003.7 237.1L1004.4 234L1004.4 236.9L1005 233.4L1005 235.7L1005.7 235.7L1005.7 237.2L1006.3 232.8L1006.3 236.5L1006.9 234.6L1006.9 236.8L1007.5 233.3L1007.5 238.3L1008.1 240.7L1008.1 235.8L1008.7 235.8L1008.7 238.8L1009.3 235.7L1009.3 238.6L1009.9 238.6L1009.9 236.7L1010.5 239.3L1010.5 234.3L1011 238.5L1011 236.3L1011.6 240.4L1011.6 235.4L1012.2 237.8L1012.2 236.3L1012.7 240.2L1012.7 237.2L1013.3 236.4L1013.3 241.1L1013.8 239.7L1013.8 233.3L1014.4 241.3L1014.4 233L1014.9 234.9L1014.9 237.4L1015.4 237.6L1015.4 234.8L1015.9 235.5L1015.9 238.6L1016.4 235.5L1016.4 240L1016.9 240.5L1016.9 236.4L1017.5 236.1L1017.5 239.1L1018 236.2L1018 242.1L1018.6 238.3L1018.6 236.6L1019.2 240.3L1019.2 234.5L1019.8 241.8L1019.8 235L1020.4 242L1020.4 236.7L1021 240.8L1021 237.5L1021.6 235.6L1021.6 237.8L1022.2 236.7L1022.2 238.1L1022.7 240.3L1022.7 236.3L1023.3 240.4L1023.3 237.5L1023.9 241.3L1023.9 238.1L1024.4 239.3L1024.4 236.4L1025 236.1L1025 239.4L1025.5 236.1L1025.5 239.7L1026 238.8L1026 241.3L1026.6 236.7L1026.6 239.2L1027.1 237.2L1027.1 241L1027.6 239L1027.6 236.2L1028.1 235.9L1028.1 241.9L1028.6 241.3L1028.6 236L1029.2 240.9L1029.2 237L1029.8 241.5L1029.8 236L1030.3 236.6L1030.3 239.4L1030.9 238.8L1030.9 241.3L1031.5 239.7L1031.5 243.9L1032.1 242.3L1032.1 240.3L1032.6 240.5L1032.6 243.3L1033.2 242.2L1033.2 238L1033.7 241.1L1033.7 237L1034.3 241.9L1034.3 238.1L1034.8 237.8L1034.8 243.8L1035.3 237.8L1035.3 243.1L1035.9 236.2L1035.9 240.1L1036.4 242.8L1036.4 237.7L1036.9 237.8L1036.9 241.5L1037.4 237.6L1037.4 241.1L1037.9 237.2L1037.9 241.6L1038.5 238.1L1038.5 242.6L1039 243.6L1039 238.7L1039.6 237.5L1039.6 243.8L1040.2 238.9L1040.2 243.4L1040.7 241.9L1040.7 237.4L1041.3 238.6L1041.3 241.6L1041.8 241.5L1041.8 237.4L1042.4 239.2L1042.4 243L1042.9 242.4L1042.9 237.1L1043.5 239.4L1043.5 246.2L1044 238.6L1044 243L1044.5 243.8L1044.5 239.9L1045 243.4L1045 238.5L1045.5 244.1L1045.5 237.8L1046 240.4L1046 244.5L1046.6 244.6L1046.6 242.1L1047.1 243.7L1047.1 240.4L1047.7 240.6L1047.7 242.1L1048.2 237.1L1048.2 241.7L1048.8 239.7L1048.8 243.9L1049.3 242.2L1049.3 238.4L1049.9 239.7L1049.9 245.2L1050.4 239.9L1050.4 243.6L1050.9 240.8L1050.9 243.7L1051.4 244.2L1051.4 240.5L1051.9 244.6L1051.9 240.7L1052.4 241.1L1052.4 244.3L1052.9 244.5L1052.9 239.4L1053.5 238.8L1053.5 244.9L1054 240.1L1054 243.7L1054.6 239.7L1054.6 245.5L1055.1 242.7L1055.1 237.6L1055.7 240L1055.7 245.2L1056.2 240.7L1056.2 244.9L1056.7 244.5L1056.7 241.2L1057.2 244.9L1057.2 239.6L1057.7 240L1057.7 243.5L1058.3 245L1058.3 239.7L1058.8 238.9L1058.8 244.4L1059.3 244.2L1059.3 239.9L1059.8 245.9L1059.8 239.5L1060.4 240.8L1060.4 244.9L1060.9 246L1060.9 239.6L1061.5 243.6L1061.5 238.4L1062 244.2L1062 238.8L1062.5 244.5L1062.5 238L1063 239.4L1063 243.6L1063.5 244.3L1063.5 240.8L1064 238.9L1064 245.3L1064.6 244.9L1064.6 240.7L1065.1 244.4L1065.1 241.5L1065.6 244.8L1065.6 241L1066.2 240.7L1066.2 246.1L1066.7 238.4L1066.7 245.3L1067.2 243.5L1067.2 239.6L1067.7 241.7L1067.7 246.7L1068.3 240.2L1068.3 245.3L1068.8 239.9L1068.8 245L1069.3 246L1069.3 238.8L1069.8 244.9L1069.8 238.9L1070.4 245.1L1070.4 238.7L1070.9 239.7L1070.9 245.3L1071.4 240.5L1071.4 245.3L1071.9 244.6L1071.9 239.1L1072.5 245L1072.5 241.2L1073 241.2L1073 244.8L1073.5 242.4L1073.5 245.6L1074 239.2L1074 244.6L1074.5 245.9L1074.5 240.5L1075.1 241.9L1075.1 246.3L1075.6 245.6L1075.6 241.5L1076.1 241.1L1076.1 245.6L1076.6 241.2L1076.6 245.8L1077.1 245.4L1077.1 239.3L1077.6 240.2L1077.6 245.7L1078.2 241L1078.2 245L1078.7 240.4L1078.7 246.9L1079.2 241.1L1079.2 246.4L1079.7 246L1079.7 240.9L1080.2 246.6L1080.2 241.6L1080.8 240.1L1080.8 245.4L1081.3 240.1L1081.3 247.3L1081.8 239.5L1081.8 244.6L1082.3 245.1L1082.3 239.8L1082.8 246.2L1082.8 240.7L1083.4 239.8L1083.4 245.1L1083.9 239.9L1083.9 243.4L1084.4 241.5L1084.4 245.3L1084.9 241.3L1084.9 245.2L1085.4 239.8L1085.4 246.3L1085.9 245.3L1085.9 239.4L1086.5 240.7L1086.5 244.1L1087 240.1L1087 244.8L1087.5 244.5L1087.5 240.1L1088 241.2L1088 245.5L1088.5 246.5L1088.5 240.9L1089 241.3L1089 247.8L1089.6 247.2L1089.6 242.2L1090.1 240.4L1090.1 248L1090.6 246.3L1090.6 241.2L1091.1 240.7L1091.1 245L1091.6 241.3L1091.6 247.3L1092.1 241.1L1092.1 245.7L1092.6 246.6L1092.6 240L1093.2 247.4L1093.2 240.1L1093.7 246.5L1093.7 241.6L1094.2 241.2L1094.2 246.4L1094.7 248L1094.7 241.8L1095.2 246.1L1095.2 241.4L1095.7 245.2L1095.7 238.8L1096.2 240.1L1096.2 246.1L1096.7 246L1096.7 240.6L1097.3 245.9L1097.3 239.4L1097.8 239.7L1097.8 245.5L1098.3 245.8L1098.3 239.9L1098.8 241.4L1098.8 245.2L1099.3 240.2L1099.3 245.4L1099.8 241.4L1099.8 247.4L1100.4 242L1100.4 247.3L1100.9 248.2L1100.9 242L1101.4 241.6L1101.4 246.8L1101.9 247.1L1101.9 240.8L1102.4 240.7L1102.4 246.6L1102.9 247.4L1102.9 240.6L1103.4 245.7L1103.4 240.1L1103.9 243.8L1103.9 240.4L1104.5 241.8L1104.5 245L1105 241.8L1105 246.1L1105.5 246.7L1105.5 241.6L1106 242.5L1106 247.2L1106.5 246.2L1106.5 241.3L1107 247.2L1107 242.5L1107.5 246L1107.5 242L1108 245.6L1108 240.9L1108.6 241.9L1108.6 246.4L1109.1 247.4L1109.1 242.4L1109.6 245.9L1109.6 240.6L1110.1 242.3L1110.1 246.9L1110.6 246L1110.6 239.6L1111.1 241.1L1111.1 246L1111.6 247.4L1111.6 241.6L1112.1 246.7L1112.1 241.9L1112.6 240.7L1112.6 248.3L1113.1 247.7L1113.1 241.2L1113.6 242.4L1113.6 247.3L1114.1 245.6L1114.1 240.8L1114.6 248L1114.6 241.4L1115.2 241.9L1115.2 246.4L1115.7 242.4L1115.7 247L1116.2 242.4L1116.2 248.4L1116.7 240.9L1116.7 247.6L1117.2 246.9L1117.2 241.5L1117.7 241.7L1117.7 246.8L1118.2 247.9L1118.2 241.1L1118.7 248L1118.7 241.2L1119.2 240.6L1119.2 246.7L1119.7 241.4L1119.7 245.8L1120.2 241.2L1120.2 246.6L1120.8 240.8L1120.8 246.5L1121.3 241.2L1121.3 247.1L1121.8 242L1121.8 246.7L1122.3 242.5L1122.3 247.1L1122.8 241.1L1122.8 245.6L1123.3 241.1L1123.3 246.5L1123.8 242.1L1123.8 247.8L1124.3 242.1L1124.3 246.9L1124.8 247L1124.8 241.5L1125.3 242.6L1125.3 247.2L1125.8 247.8L1125.8 241.2L1126.3 248.3L1126.3 241.1L1126.8 241.5L1126.8 247.7L1127.4 240.3L1127.4 247.4L1127.9 247.8L1127.9 241L1128.4 240.9L1128.4 247.5L1128.9 246.9L1128.9 242.3L1129.4 242.4L1129.4 247.7L1129.9 247.9L1129.9 241.3L1130.4 246.5L1130.4 241.6L1130.9 247.9L1130.9 240.1L1131.4 246.6L1131.4 242L1131.9 241.9L1131.9 247L1132.4 242.1L1132.4 248.1L1132.9 247.7L1132.9 242.4L1133.4 248.1L1133.4 242.7L1133.9 246.3L1133.9 240.6L1134.1 243.3" stroke="#440154" stroke-width="2.6"/>
<path d="M690.7 55.8L710.5 55.8L745.9 75.4L766.6 96.6L781.3 116.2L792.7 132.5L802 145.5L809.9 152.1L816.7 161.9L822.7 160.8L828.1 170.7L833 174.1L837.4 176.6L841.5 177.5L845.3 178.3L848.8 180.5L852.1 184.2L855.2 181.9L858.1 180.3L860.9 179.7L863.5 183.9L866 180L868.4 179.3L870.6 178.9L872.8 179.5L874.9 177.4L876.9 176.1L878.8 174.1L880.7 171.2L882.5 171.4L884.2 170.5L885.9 168.1L887.5 165.8L889.1 172.3L890.6 171.7L892.1 170.4L893.5 169.4L894.9 168.5L896.3 166.1L897.6 165.8L898.9 166.4L900.2 166.8L901.4 166.2L902.6 165.6L903.8 169.8L904.9 170.7L906 172.7L907.1 173.1L908.2 168.3L909.3 171.4L910.3 170.1L911.3 170.5L912.3 174.5L913.3 174.8L914.2 172.9L915.2 174.4L916.1 174L917 173.8L917.9 173.7L918.8 173.2L919.6 179.1L920.5 174.2L921.3 176.7L922.1 177.5L922.9 176.2L923.7 182.7L924.5 179.8L925.2 174.1L926 178.1L926.7 181.1L927.5 178.3L928.2 179.8L928.9 180.1L929.6 180.6L930.3 179L931 181.2L931.7 181L932.4 180.1L933 183.1L933.7 182.7L934.3 184.3L934.9 184.9L935.6 183L936.2 180.4L936.8 185.1L937.4 184.8L938 181.6L938.6 181.7L939.2 183.8L939.7 184.5L940.3 180L940.9 181.7L941.4 182.6L942 182.1L942.5 184.8L943.1 188.1L943.6 182.2L944.1 188.7L944.7 188.6L945.2 191.2L945.7 186.5L946.2 187.1L947 187.2L947 186.8L947.9 189L947.9 186.6L948.9 188.5L948.9 186.8L949.9 185.2L949.9 189.3L950.8 187L950.8 188.1L951.7 186.2L951.7 188.1L952.6 184L952.6 190L953.5 188.6L953.5 187.5L954.4 185.5L954.4 184.8L955.2 187L955.2 185.6L956.1 187.5L956.1 189.1L956.9 189.5L956.9 189.1L957.7 187.2L957.7 193.4L958.5 193.3L958.5 187.6L959.3 187.6L959.3 194L960.1 193.4L960.1 190.1L960.8 190.5L960.8 185.3L961.6 190.1L961.6 193.4L962.3 185.9L962.3 191.9L963.1 188.2L963.1 195.5L963.8 188.3L963.8 188L964.5 189.5L964.5 188.9L965.2 191.2L965.2 193.5L965.9 187L965.9 189.1L966.6 190.7L966.6 187.1L967.3 190.7L967.3 189.9L967.9 190.4L968.6 192.5L968.6 194.3L969.2 191.4L969.2 195.3L969.9 193.3L969.9 188.8L970.5 195.9L970.5 193L971.1 195.8L971.1 192.3L971.7 193.7L971.7 192.1L972.3 189.5L972.3 193.1L973 195.5L973 192.1L973.5 191.3L973.5 190.9L974.1 190.1L974.1 193.5L974.7 194.5L974.7 192.8L975.3 191.9L975.3 191.6L975.9 190.8L975.9 195.6L976.4 193.5L976.4 190.5L977 187.5L977 189.9L977.5 192.4L977.5 191.5L978.1 197.1L978.1 194.3L978.6 192.8L978.6 192.5L979.1 189L979.1 194.3L979.7 188.7L979.7 192.5L980.2 191.4L980.2 194.7L980.7 195.4L980.7 195L981.2 193.9L981.2 192.9L981.7 193.5L981.7 192.9L982.4 190.3L982.4 194.5L983.1 195.4L983.1 193L983.8 190.8L983.8 195.3L984.6 194.4L984.6 191L985.3 193.4L985.3 189L986 191L986 195.8L986.7 190.2L986.7 196.1L987.3 193.3L987.3 188.5L988 194.3L988 191.8L988.7 192.2L988.7 195.8L989.3 196.4L989.3 194.7L990 191.7L990 194.2L990.6 193.4L990.6 191.6L991.3 191L991.3 192.8L991.9 194.5L991.9 193L992.5 191.7L992.5 192L993.1 194.7L993.1 194.1L993.7 191.8L993.7 196.7L994.3 193.5L994.3 192.2L994.9 193.1L994.9 194.4L995.5 194.4L995.5 199.4L996 199.1L996 193L996.6 199L996.6 192.9L997.2 198.7L997.2 190L997.7 195.9L997.7 195.5L998.3 193.5L998.3 199.9L998.8 194.5L998.8 197.6L999.4 194.6L999.4 197.1L999.9 194.6L999.9 192.1L1000.4 195.9L1000.4 191.8L1001 197.9L1001 194.3L1001.5 196.7L1001.5 193.8L1002 196.8L1002 194.6L1002.5 196.7L1002.5 195.9L1003.1 196.8L1003.1 191.8L1003.7 193.7L1003.7 200.3L1004.4 194.8L1004.4 199.2L1005 200.8L1005 195L1005.7 192.8L1005.7 194.6L1006.3 193.9L1006.3 200.9L1006.9 191.2L1006.9 197.1L1007.5 194.2L1007.5 195L1008.1 194.9L1008.1 200.1L1008.7 194L1008.7 199.7L1009.3 200.1L1009.3 192.1L1009.9 193.6L1009.9 198.5L1010.5 200.1L1010.5 196.4L1011 197.3L1011 199.3L1011.6 193.8L1011.6 199.6L1012.2 195.4L1012.2 198.7L1012.7 200.3L1012.7 194.8L1013.3 196.3L1013.3 199.5L1013.8 199L1013.8 193.4L1014.4 199.7L1014.4 193.9L1014.9 194.7L1014.9 196.5L1015.4 194.9L1015.4 198.6L1015.9 199.6L1015.9 195.3L1016.4 195.9L1016.4 193.2L1016.9 193.8L1016.9 197.8L1017.5 192.9L1017.5 198.8L1018 201.5L1018 197.4L1018.6 197.7L1018.6 196.7L1019.2 194.8L1019.2 199.9L1019.8 197.3L1019.8 192.3L1020.4 194.9L1020.4 200.6L1021 196.8L1021 199.5L1021.6 196.5L1021.6 198.6L1022.2 196L1022.2 200.5L1022.7 201.1L1022.7 198L1023.3 198.3L1023.3 201.4L1023.9 196.4L1023.9 198.7L1024.4 201.1L1024.4 195.4L1025 202.4L1025 195.5L1025.5 197.8L1025.5 201.3L1026 200.3L1026 196.9L1026.6 200.2L1026.6 197.8L1027.1 195.6L1027.1 200.9L1027.6 202.2L1027.6 198.5L1028.1 199.6L1028.1 196.6L1028.6 200.4L1028.6 198.8L1029.2 196.6L1029.2 201.3L1029.8 201.1L1029.8 196.5L1030.3 196.8L1030.3 200L1030.9 201.7L1030.9 196.8L1031.5 195.9L1031.5 200.6L1032.1 196.5L1032.1 201.6L1032.6 200.4L1032.6 196.4L1033.2 201.8L1033.2 197.8L1033.7 196.8L1033.7 200.6L1034.3 194.4L1034.3 202.7L1034.8 194.8L1034.8 201.5L1035.3 196.5L1035.3 202.7L1035.9 196.3L1035.9 200.1L1036.4 200.1L1036.4 197L1036.9 198.8L1036.9 201.3L1037.4 203.7L1037.4 193.5L1037.9 203.6L1037.9 197.4L1038.5 196.8L1038.5 203.4L1039 203.7L1039 195.1L1039.6 198.8L1039.6 194.5L1040.2 200.2L1040.2 196.6L1040.7 196.7L1040.7 200.1L1041.3 197.6L1041.3 202.1L1041.8 200L1041.8 198.1L1042.4 195.6L1042.4 205.7L1042.9 204L1042.9 198.4L1043.5 197.9L1043.5 202L1044 201.4L1044 199.2L1044.5 202L1044.5 197.1L1045 195.4L1045 202.9L1045.5 203L1045.5 197.6L1046 203.7L1046 196.7L1046.6 199.8L1046.6 194.2L1047.1 197.3L1047.1 202.2L1047.7 200.9L1047.7 194.4L1048.2 202.4L1048.2 198.7L1048.8 196.6L1048.8 201.4L1049.3 195.7L1049.3 201.8L1049.9 202.8L1049.9 198.1L1050.4 203.7L1050.4 198.2L1050.9 202.5L1050.9 197.5L1051.4 195.4L1051.4 200.4L1051.9 200.7L1051.9 194.9L1052.4 202.1L1052.4 195.2L1052.9 197.7L1052.9 202.6L1053.5 195.8L1053.5 202.1L1054 194.9L1054 201.4L1054.6 196.3L1054.6 202.3L1055.1 202L1055.1 198L1055.7 195.8L1055.7 200.3L1056.2 199.9L1056.2 195L1056.7 203L1056.7 196.7L1057.2 203.5L1057.2 197.9L1057.7 198.8L1057.7 196.3L1058.3 197.9L1058.3 200.7L1058.8 203L1058.8 195.1L1059.3 200.7L1059.3 196.2L1059.8 195.3L1059.8 200.7L1060.4 196.2L1060.4 203.3L1060.9 197.2L1060.9 202.9L1061.5 203.8L1061.5 198.4L1062 202.4L1062 196.8L1062.5 201.9L1062.5 197.1L1063 201.3L1063 195.7L1063.5 202.9L1063.5 196.6L1064 202L1064 198.5L1064.6 198.2L1064.6 205.6L1065.1 198.3L1065.1 201.2L1065.6 196.7L1065.6 200.7L1066.2 199.3L1066.2 203.9L1066.7 201.4L1066.7 196.8L1067.2 201.9L1067.2 196.6L1067.7 202.7L1067.7 197.7L1068.3 199.1L1068.3 202.5L1068.8 198.1L1068.8 203.2L1069.3 204.1L1069.3 198.7L1069.8 202.7L1069.8 198.2L1070.4 200.9L1070.4 197.1L1070.9 204.5L1070.9 198.1L1071.4 202.3L1071.4 198.8L1071.9 203.3L1071.9 197.9L1072.5 199.1L1072.5 204.4L1073 202.7L1073 198.7L1073.5 197.4L1073.5 204.3L1074 195.8L1074 201.7L1074.5 198.2L1074.5 202.5L1075.1 195.4L1075.1 201.8L1075.6 194.8L1075.6 202.3L1076.1 204.2L1076.1 196.1L1076.6 197.8L1076.6 204.3L1077.1 198.5L1077.1 202.8L1077.6 204.1L1077.6 199.1L1078.2 202.7L1078.2 196.6L1078.7 196.9L1078.7 203.5L1079.2 198.4L1079.2 204.6L1079.7 195.6L1079.7 201.5L1080.2 197.1L1080.2 203.4L1080.8 204.1L1080.8 196.3L1081.3 198.9L1081.3 203L1081.8 198.5L1081.8 203.4L1082.3 197.4L1082.3 202.9L1082.8 204.4L1082.8 198.1L1083.4 203.2L1083.4 198.5L1083.9 198.1L1083.9 203.1L1084.4 202.3L1084.4 197L1084.9 196L1084.9 202.9L1085.4 203L1085.4 198L1085.9 196.9L1085.9 203.4L1086.5 203.4L1086.5 199.3L1087 204.4L1087 196.1L1087.5 197.2L1087.5 202.6L1088 203.2L1088 197.5L1088.5 203.3L1088.5 196.4L1089 198.4L1089 205.1L1089.6 205L1089.6 199.3L1090.1 199.3L1090.1 204.7L1090.6 203.7L1090.6 199L1091.1 202.4L1091.1 197.2L1091.6 196.2L1091.6 202L1092.1 204.3L1092.1 197.6L1092.6 203.5L1092.6 198L1093.2 197.4L1093.2 203.3L1093.7 197.7L1093.7 204.1L1094.2 198.6L1094.2 203.7L1094.7 195.3L1094.7 202.3L1095.2 197.3L1095.2 204.9L1095.7 196.7L1095.7 204.2L1096.2 204.7L1096.2 199.2L1096.7 205L1096.7 197.3L1097.3 198L1097.3 204.2L1097.8 197.6L1097.8 204.1L1098.3 202.7L1098.3 196.9L1098.8 204.3L1098.8 196.8L1099.3 198.2L1099.3 203.1L1099.8 199.3L1099.8 206.2L1100.4 203.7L1100.4 197.3L1100.9 198.7L1100.9 205.2L1101.4 205.5L1101.4 198.4L1101.9 199.1L1101.9 205.6L1102.4 204.7L1102.4 197.8L1102.9 204.6L1102.9 198.6L1103.4 197.7L1103.4 203.2L1103.9 197.2L1103.9 204.1L1104.5 199L1104.5 205.1L1105 198.4L1105 205.5L1105.5 204.7L1105.5 198.9L1106 203.8L1106 197.4L1106.5 197.4L1106.5 204.1L1107 198.1L1107 205L1107.5 199.3L1107.5 204L1108 205.9L1108 198.5L1108.6 199.3L1108.6 204.5L1109.1 197.5L1109.1 205.3L1109.6 204.5L1109.6 198L1110.1 204.9L1110.1 199.1L1110.6 195.3L1110.6 202.6L1111.1 199.2L1111.1 203.6L1111.6 204.7L1111.6 197.1L1112.1 204.1L1112.1 198.1L1112.6 197.4L1112.6 204.8L1113.1 206.1L1113.1 197.4L1113.6 204.5L1113.6 200.1L1114.1 204.5L1114.1 198.1L1114.6 199.5L1114.6 204.5L1115.2 204.4L1115.2 199L1115.7 199L1115.7 204.8L1116.2 204.7L1116.2 198.6L1116.7 204.4L1116.7 199.1L1117.2 204.3L1117.2 199L1117.7 205.9L1117.7 199.1L1118.2 199.2L1118.2 205L1118.7 198.3L1118.7 204.8L1119.2 198L1119.2 204.2L1119.7 199.3L1119.7 204.9L1120.2 205.1L1120.2 199.7L1120.8 204.7L1120.8 196.9L1121.3 206.6L1121.3 200.3L1121.8 205.9L1121.8 199.4L1122.3 205.2L1122.3 198.8L1122.8 204.9L1122.8 199.4L1123.3 198.6L1123.3 204.9L1123.8 203.9L1123.8 199L1124.3 200L1124.3 204.7L1124.8 198.2L1124.8 204.5L1125.3 204.3L1125.3 198.3L1125.8 205.9L1125.8 198.6L1126.3 205.5L1126.3 198.5L1126.8 204.7L1126.8 199.6L1127.4 204.3L1127.4 199.1L1127.9 198.5L1127.9 204.6L1128.4 205.3L1128.4 200.1L1128.9 200.7L1128.9 206.8L1129.4 205.3L1129.4 199.2L1129.9 206.4L1129.9 198.6L1130.4 196.6L1130.4 204.1L1130.9 203.7L1130.9 198.9L1131.4 199.1L1131.4 204.6L1131.9 198.8L1131.9 204.9L1132.4 199.6L1132.4 204.9L1132.9 199.3L1132.9 206L1133.4 200.1L1133.4 204.6L1133.9 205L1133.9 200.3L1134.1 202.7" stroke="#2a788e" stroke-width="2.6"/>
<path d="M690.7 50.3L710.5 50.3L745.9 75.4L766.6 92.4L781.3 111.5L792.7 115.6L802 126.1L809.9 135.9L816.7 141.3L822.7 147.1L828.1 154.4L833 161.2L837.4 163.8L841.5 162.1L845.3 164.3L848.8 165.9L852.1 161.5L855.2 165.1L858.1 162.6L860.9 160.7L863.5 161.3L866 158L868.4 159.5L870.6 156.4L872.8 153L874.9 150.5L876.9 149.9L878.8 146.7L880.7 147.4L882.5 144.7L884.2 145L885.9 144.8L887.5 142.1L889.1 141L890.6 140.6L892.1 141.4L893.5 140.6L894.9 140L896.3 138.5L897.6 134.7L898.9 132.6L900.2 134.2L901.4 140.9L902.6 136.3L903.8 135.3L904.9 137.9L906 136.4L907.1 136.9L908.2 137.1L909.3 133.4L910.3 133.4L911.3 137.2L912.3 133.3L913.3 135L914.2 133.6L915.2 135.9L916.1 136.4L917 134.7L917.9 139L918.8 136.2L919.6 136.3L920.5 137.5L921.3 138.2L922.1 136.6L922.9 132.9L923.7 138.5L924.5 141.5L925.2 143.2L926 142.8L926.7 148.8L927.5 144.9L928.2 140.9L928.9 142.7L929.6 143.3L930.3 144L931 146L931.7 145.3L932.4 143.3L933 149.6L933.7 148.9L934.3 147.1L934.9 146.2L935.6 150.2L936.2 148.9L936.8 145.8L937.4 150L938 148.9L938.6 154.8L939.2 143L939.7 151.5L940.3 147.7L940.9 147.2L941.4 152.1L942 158.1L942.5 148.6L943.1 153.2L943.6 154.8L944.1 154.3L944.7 152.9L945.2 153.1L945.7 159.9L946.2 153.7L947 155.1L947 156.4L947.9 158.7L947.9 160.6L948.9 161.1L948.9 156L949.9 153.1L949.9 157.5L950.8 152.6L950.8 153.5L951.7 155.1L952.6 156.7L952.6 159.1L953.5 159.2L954.4 158.2L954.4 161.6L955.2 160.5L955.2 151.7L956.1 157.4L956.1 160.1L956.9 156.9L956.9 161L957.7 158.1L957.7 164.6L958.5 157.9L958.5 156.3L959.3 159.6L959.3 157.3L960.1 157.8L960.1 156.8L960.8 156.5L960.8 161L961.6 158.4L961.6 160.2L962.3 153.9L962.3 160.7L963.1 151.5L963.1 156.7L963.8 156.6L963.8 152.3L964.5 161.1L964.5 154.9L965.2 155L965.2 157.2L965.9 160.2L965.9 159.7L966.6 155.5L966.6 159.5L967.3 158.5L967.3 162L967.9 163.1L967.9 160.2L968.6 161.7L968.6 163.4L969.2 160.7L969.2 161.2L969.9 162L969.9 160.1L970.5 161L970.5 158.8L971.1 159.9L971.7 162L971.7 155.6L972.3 158.1L972.3 160.6L973 161.3L973 159.2L973.5 158.4L973.5 163.2L974.1 160.5L974.7 158.5L974.7 160.6L975.3 160.7L975.3 160.4L975.9 158.9L975.9 159.2L976.4 158L976.4 165.8L977 159.2L977 166.5L977.5 157.5L977.5 161.6L978.1 165.4L978.1 158.1L978.6 158.8L978.6 161.7L979.1 163.2L979.1 161.8L979.7 160.1L979.7 161.6L980.2 165.4L980.2 164L980.7 160.8L980.7 158.3L981.2 159.7L981.2 164.4L981.7 163.4L981.7 156.2L982.4 158L982.4 164.3L983.1 156.4L983.1 163.8L983.8 164.4L983.8 158L984.6 162.9L984.6 159.5L985.3 165.4L985.3 158.8L986 165.2L986 159.1L986.7 163L986.7 159L987.3 163.4L987.3 164.2L988 158.6L988 164L988.7 167.2L988.7 157.6L989.3 162.3L989.3 163.2L990 159.3L990 162L990.6 166.8L990.6 160.3L991.3 159.2L991.3 166.5L991.9 159.7L991.9 166L992.5 159.2L992.5 164.5L993.1 160.6L993.1 166.7L993.7 161.3L993.7 163.9L994.3 158.7L994.3 164L994.9 156.6L994.9 161.8L995.5 166L995.5 161.1L996 161.3L996 165.2L996.6 159L996.6 166.2L997.2 164.6L997.2 167.1L997.7 160.8L997.7 165.9L998.3 164.1L998.3 161.5L998.8 158.7L998.8 163.8L999.4 161.1L999.4 164.3L999.9 161.5L999.9 160.1L1000.4 164.2L1000.4 161.7L1001 163.9L1001 168.4L1001.5 165.3L1001.5 161.2L1002 167.6L1002 164.6L1002.5 165.2L1002.5 163.2L1003.1 162.3L1003.1 164.9L1003.7 170L1003.7 164.4L1004.4 166.1L1004.4 161.9L1005 165.9L1005 162L1005.7 163.1L1005.7 167.8L1006.3 168.3L1006.3 165.1L1006.9 162.6L1006.9 167.4L1007.5 167.2L1007.5 158.7L1008.1 167.4L1008.1 163.8L1008.7 166.1L1008.7 163.3L1009.3 160.2L1009.3 165.8L1009.9 164L1009.9 160.8L1010.5 160.3L1010.5 164.8L1011 165.1L1011 161.1L1011.6 158.6L1011.6 168.5L1012.2 163.7L1012.2 160.2L1012.7 164.6L1012.7 162.5L1013.3 163L1013.3 165.3L1013.8 166.3L1013.8 165.4L1014.4 163.9L1014.4 165.5L1014.9 166.2L1014.9 163.9L1015.4 164L1015.4 168.1L1015.9 166L1015.9 163.2L1016.4 161L1016.4 167.7L1016.9 166.1L1016.9 160.2L1017.5 163.6L1017.5 162L1018 160.9L1018 166.9L1018.6 167.6L1018.6 162L1019.2 167.3L1019.2 162.4L1019.8 161.6L1019.8 165.5L1020.4 164.1L1020.4 167.3L1021 166.2L1021 168.1L1021.6 171.2L1021.6 162.7L1022.2 172L1022.2 165.8L1022.7 171.3L1022.7 168.5L1023.3 172L1023.3 162.3L1023.9 167.1L1023.9 162.1L1024.4 162.6L1024.4 167.4L1025 168.3L1025 163.9L1025.5 168L1025.5 163.8L1026 163.8L1026 170.4L1026.6 164.2L1026.6 168.8L1027.1 164.8L1027.1 168.1L1027.6 161.8L1027.6 166.8L1028.1 168.5L1028.1 160.2L1028.6 161.9L1028.6 165.8L1029.2 161.8L1029.2 168.7L1029.8 164L1029.8 169.8L1030.3 167.4L1030.3 162.2L1030.9 163.3L1030.9 167.8L1031.5 167.7L1031.5 164L1032.1 168.3L1032.1 162.6L1032.6 164.9L1032.6 169.1L1033.2 167.1L1033.2 161.1L1033.7 162.9L1033.7 167.9L1034.3 162.7L1034.3 167.6L1034.8 170.3L1034.8 164.3L1035.3 168.3L1035.3 165.4L1035.9 166.4L1035.9 170.9L1036.4 169.3L1036.4 162.4L1036.9 166.4L1036.9 163.4L1037.4 170.9L1037.4 163.3L1037.9 168.4L1037.9 165.5L1038.5 162.7L1038.5 168.9L1039 165.4L1039 169.9L1039.6 166.8L1039.6 164.9L1040.2 163.6L1040.2 170.2L1040.7 169L1040.7 165.1L1041.3 170.9L1041.3 165.5L1041.8 170.3L1041.8 162.9L1042.4 164.2L1042.4 168.1L1042.9 167.7L1042.9 162.9L1043.5 161.9L1043.5 168.8L1044 167.8L1044 169.5L1044.5 169.7L1044.5 162.7L1045 165.7L1045 170.5L1045.5 162.6L1045.5 169.4L1046 164.2L1046 170.8L1046.6 163.3L1046.6 169.3L1047.1 168.4L1047.1 163.7L1047.7 163.9L1047.7 167.5L1048.2 163.8L1048.2 169.7L1048.8 164L1048.8 169.6L1049.3 167.7L1049.3 163L1049.9 160.4L1049.9 168.1L1050.4 163.9L1050.4 169.7L1050.9 165.7L1050.9 169.7L1051.4 170.3L1051.4 160.8L1051.9 164.6L1051.9 169.1L1052.4 165L1052.4 168.2L1052.9 162.5L1052.9 171.1L1053.5 165.3L1053.5 168L1054 170.5L1054 163.1L1054.6 165.1L1054.6 167.7L1055.1 169.4L1055.1 163.2L1055.7 168L1055.7 164.8L1056.2 169L1056.2 165.1L1056.7 171.8L1056.7 166L1057.2 170L1057.2 165.6L1057.7 165.5L1057.7 171.1L1058.3 170.7L1058.3 165.1L1058.8 163.9L1058.8 169.8L1059.3 165.3L1059.3 170.9L1059.8 171.7L1059.8 165.4L1060.4 163.3L1060.4 170.3L1060.9 169.9L1060.9 165.4L1061.5 165.4L1061.5 170.1L1062 170.1L1062 166.6L1062.5 166.5L1062.5 170.4L1063 170.6L1063 165L1063.5 166.8L1063.5 170.7L1064 164.6L1064 168.7L1064.6 171.5L1064.6 164.3L1065.1 167.2L1065.1 170.7L1065.6 164.6L1065.6 170L1066.2 165.7L1066.2 170.3L1066.7 170.6L1066.7 165.4L1067.2 170.2L1067.2 165.5L1067.7 170.8L1067.7 167.1L1068.3 172.5L1068.3 166L1068.8 171L1068.8 163.8L1069.3 162.2L1069.3 168.8L1069.8 170.9L1069.8 166.7L1070.4 170.2L1070.4 164.5L1070.9 168.9L1070.9 163.5L1071.4 162.7L1071.4 169.2L1071.9 164.2L1071.9 170.3L1072.5 172.8L1072.5 165.5L1073 171.2L1073 164.2L1073.5 165.2L1073.5 171.6L1074 171.1L1074 165L1074.5 170.1L1074.5 164.7L1075.1 170L1075.1 166.7L1075.6 171L1075.6 165.1L1076.1 171.7L1076.1 165.7L1076.6 170.2L1076.6 165.7L1077.1 170.1L1077.1 164.6L1077.6 165L1077.6 169L1078.2 169.6L1078.2 162.7L1078.7 171.7L1078.7 165.7L1079.2 167.4L1079.2 171.4L1079.7 171.6L1079.7 165.6L1080.2 165.5L1080.2 170.4L1080.8 170.2L1080.8 164.9L1081.3 164.4L1081.3 170.7L1081.8 164.7L1081.8 172.2L1082.3 165L1082.3 173.1L1082.8 167.4L1082.8 172.4L1083.4 171.4L1083.4 166.9L1083.9 166.5L1083.9 172.1L1084.4 172L1084.4 164.7L1084.9 164.9L1084.9 169.7L1085.4 164.1L1085.4 171.2L1085.9 170.4L1085.9 165.5L1086.5 169.8L1086.5 164.6L1087 164.7L1087 169.6L1087.5 170.4L1087.5 164.1L1088 164.6L1088 171.9L1088.5 168.6L1088.5 171.3L1089 171.7L1089 165.9L1089.6 166.1L1089.6 172.4L1090.1 164.7L1090.1 173.6L1090.6 166.7L1090.6 173.4L1091.1 165.7L1091.1 171.7L1091.6 167.4L1091.6 171.9L1092.1 172.1L1092.1 165.8L1092.6 171.7L1092.6 167.4L1093.2 166.7L1093.2 172.3L1093.7 164.7L1093.7 171.1L1094.2 170L1094.2 165.7L1094.7 166.3L1094.7 172.1L1095.2 171.4L1095.2 164.8L1095.7 171L1095.7 166.5L1096.2 165.5L1096.2 170.9L1096.7 171.8L1096.7 165.2L1097.3 164.8L1097.3 170.7L1097.8 166.2L1097.8 172.4L1098.3 172.2L1098.3 166.1L1098.8 171.2L1098.8 164.6L1099.3 165.3L1099.3 171L1099.8 172.4L1099.8 165.3L1100.4 172.7L1100.4 165.8L1100.9 164.2L1100.9 171.4L1101.4 172.7L1101.4 165.3L1101.9 165.2L1101.9 171.6L1102.4 170.8L1102.4 164.7L1102.9 165L1102.9 171.8L1103.4 164.6L1103.4 171.1L1103.9 166.6L1103.9 172.1L1104.5 165.9L1104.5 173.9L1105 165.4L1105 173.4L1105.5 167L1105.5 172.2L1106 172.4L1106 165.2L1106.5 166.9L1106.5 171.2L1107 171.7L1107 165.4L1107.5 166.1L1107.5 171.1L1108 166.9L1108 172.9L1108.6 167.4L1108.6 172.9L1109.1 166.5L1109.1 173L1109.6 171.2L1109.6 167.3L1110.1 166.9L1110.1 171.2L1110.6 165.9L1110.6 171.4L1111.1 172.7L1111.1 165.2L1111.6 166.8L1111.6 171.7L1112.1 166.3L1112.1 172.2L1112.6 173L1112.6 167L1113.1 164.7L1113.1 171.9L1113.6 165.5L1113.6 172.9L1114.1 166.3L1114.1 171.9L1114.6 166.6L1114.6 172.5L1115.2 172.4L1115.2 166.8L1115.7 171.7L1115.7 166.8L1116.2 172.2L1116.2 165.7L1116.7 165.7L1116.7 173.1L1117.2 173.7L1117.2 167.4L1117.7 167L1117.7 174.6L1118.2 172.8L1118.2 167.2L1118.7 172.7L1118.7 168.2L1119.2 166.3L1119.2 173.1L1119.7 174.6L1119.7 167.3L1120.2 167.4L1120.2 173.4L1120.8 174.2L1120.8 165.9L1121.3 164L1121.3 171.2L1121.8 172.7L1121.8 166.3L1122.3 173L1122.3 167.2L1122.8 166.6L1122.8 171.8L1123.3 172.8L1123.3 167.1L1123.8 173.7L1123.8 166.1L1124.3 172.5L1124.3 165.9L1124.8 173.3L1124.8 166.7L1125.3 167L1125.3 175L1125.8 167.3L1125.8 173.7L1126.3 167.8L1126.3 174.1L1126.8 173.4L1126.8 166L1127.4 172.6L1127.4 165.7L1127.9 167.5L1127.9 173.5L1128.4 165L1128.4 173.4L1128.9 166L1128.9 172.7L1129.4 173L1129.4 166L1129.9 171.9L1129.9 166.4L1130.4 165.4L1130.4 171L1130.9 166L1130.9 174.4L1131.4 168.3L1131.4 173.6L1131.9 173L1131.9 167.4L1132.4 172.6L1132.4 168.3L1132.9 173L1132.9 166.8L1133.4 167.2L1133.4 172.1L1133.9 168.3L1133.9 172.8L1134.1 169.8" stroke="#7ad151" stroke-width="2.6"/>
</g>
<path d="M692.3 260.2v2.5M699.1 260.2v2.5M705.1 260.2v2.5M710.5 260.2v4.1M745.9 260.2v2.5M766.6 260.2v2.5M781.3 260.2v2.5M792.7 260.2v2.5M802 260.2v2.5M809.9 260.2v2.5M816.7 260.2v2.5M822.7 260.2v2.5M828.1 260.2v4.1M863.5 260.2v2.5M884.2 260.2v2.5M898.9 260.2v2.5M910.3 260.2v2.5M919.6 260.2v2.5M927.5 260.2v2.5M934.3 260.2v2.5M940.3 260.2v2.5M945.7 260.2v4.1M981.1 260.2v2.5M1001.8 260.2v2.5M1016.5 260.2v2.5M1027.9 260.2v2.5M1037.2 260.2v2.5M1045.1 260.2v2.5M1051.9 260.2v2.5M1057.9 260.2v2.5M1063.3 260.2v4.1M1098.7 260.2v2.5M1119.4 260.2v2.5M1134.1 260.2v2.5M1145.5 260.2v2.5M1154.8 260.2v2.5M689.4 202h-4.2M689.4 116.2h-4.2M689.4 30.4h-4.2" stroke="#585858" stroke-width="1.05" fill="none"/>
<path d="M689.4 2V260.2H1155.4V2" stroke="#585858" stroke-width="1.45" fill="none"/>
<rect x="689" y="0" width="467.2" height="1" fill="#bcbcbc"/>
<rect x="688.7" y="1" width="467.5" height="1" fill="#7a7a7a"/>
<text transform="translate(681 209.9) scale(1 1.07)" text-anchor="end" font-size="20.25">0.4</text>
<text transform="translate(681 124.1) scale(1 1.07)" text-anchor="end" font-size="20.25">0.6</text>
<text transform="translate(681 38.3) scale(1 1.07)" text-anchor="end" font-size="20.25">0.8</text>
<text transform="translate(638.5 130.8) rotate(-90)" text-anchor="middle" font-size="23.7">Test Error</text>
<path d="M947 24.5H985.1" stroke="#440154" stroke-width="2.6" fill="none"/>
<text x="997.2" y="30.3" font-size="17.8">0% label noise</text>
<path d="M947 51H985.1" stroke="#2a788e" stroke-width="2.6" fill="none"/>
<text x="997.2" y="56.8" font-size="17.8">10% label noise</text>
<path d="M947 77.5H985.1" stroke="#7ad151" stroke-width="2.6" fill="none"/>
<text x="997.2" y="83.3" font-size="17.8">20% label noise</text>
</g>
<g class="dv" id="A3">
<g class="ln">
<path d="M1311.1 88.1L1331.2 88.1L1371.8 125.3L1395.5 153.8L1412.4 151.9L1425.4 179.9L1436.1 201.6L1445.1 181.9L1452.9 211L1459.8 207L1466 208.5L1471.6 221.8L1476.7 220.8L1481.4 224.7L1485.7 228.7L1489.7 223.3L1493.5 226.2L1497.1 228.7L1500.4 220.8L1503.6 232.1L1506.6 229.2L1509.4 232.6L1512.2 230.2L1514.8 234.1L1517.3 231.6L1519.6 232.8L1521.9 235.6L1524.1 236.6L1526.3 234.6L1528.3 237.1L1530.3 235.6L1532.2 238L1534.1 239.5L1535.9 237.6L1537.6 239L1539.3 238.3L1541 237.5L1542.6 238.1L1544.2 238L1545.7 235.9L1547.2 237L1548.6 237.4L1550 237.2L1551.4 237.2L1552.7 237L1554.1 238.6L1555.3 237.5L1556.6 236.7L1557.8 237.4L1559 238L1560.2 238.3L1561.4 238.3L1562.5 238.6L1563.6 238.4L1564.7 239L1565.8 237.7L1566.9 238.4L1567.9 238.2L1568.9 238.4L1569.9 239.6L1570.9 239.2L1571.9 240L1572.8 239.5L1573.8 239.8L1574.7 240.1L1575.6 239.1L1576.5 238.6L1577.4 239.1L1578.2 239.5L1579.1 239.9L1579.9 239.5L1580.7 240.5L1581.6 240.6L1582.4 239.9L1583.2 240.7L1584 240.7L1584.7 241.5L1585.5 241.7L1586.3 240.6L1587 242.1L1587.7 240.2L1588.5 240.7L1589.2 241.2L1589.9 241.4L1590.6 241.8L1591.3 241.1L1592 240.5L1592.6 240L1593.3 241.2L1594 242.6L1594.6 241.2L1595.3 241.6L1595.9 241.4L1596.6 242.3L1597.2 240.7L1597.8 242.9L1598.4 242L1599 242.6L1599.6 243.2L1600.2 241.4L1600.8 242.2L1601.4 242L1602 242.8L1602.5 243L1603.1 242.8L1603.7 243.3L1604.2 242.7L1604.8 242.3L1605.3 242.5L1605.8 243L1606.4 243.4L1606.9 243L1607.4 243.8L1608 242.2L1608.5 242.7L1609 243.2L1609.5 243.1L1610.2 243.8L1610.2 243.1L1611.2 243.7L1611.2 243.1L1612.2 243.3L1612.2 244L1613.2 243.7L1613.2 242.9L1614.1 243.5L1614.1 243.7L1615 243.8L1615.9 243.5L1615.9 242.5L1616.8 243.7L1616.8 243.4L1617.7 243.8L1618.6 244.1L1618.6 244.6L1619.4 243.7L1619.4 244L1620.3 243.9L1620.3 244.5L1621.1 244.4L1621.1 243.3L1621.9 243.7L1621.9 244L1622.8 244.5L1622.8 244.1L1623.6 244.2L1623.6 243.5L1624.3 244.1L1625.1 244.8L1625.1 244.5L1625.9 244.2L1626.6 244.5L1627.4 244.6L1627.4 244.3L1628.1 244.7L1628.1 245.2L1628.9 244.6L1628.9 244.4L1629.6 244.6L1629.6 243.9L1630.3 244.1L1630.3 245.1L1631 244.5L1631 244.2L1631.7 244.4L1632.4 244.4L1632.4 244.7L1633.1 244.1L1633.1 244.4L1633.7 244.8L1633.7 243.9L1634.4 244.5L1635 244L1635 245.1L1635.7 244.8L1635.7 245.4L1636.3 244.5L1636.3 244.9L1637 245L1637 245.6L1637.6 245.9L1637.6 245.2L1638.2 244.8L1638.2 245.1L1638.8 245.6L1638.8 245.3L1639.4 244.6L1639.4 245.2L1640 245L1640.6 245.1L1640.6 245.4L1641.2 244.5L1641.8 245.3L1642.4 244.9L1643 244.8L1643 245.9L1643.5 245.7L1643.5 245.2L1644.1 246.2L1644.1 245.7L1644.7 245.3L1644.7 245.7L1645.2 245.2L1645.7 245.5L1645.7 245.1L1646.3 245.4L1646.8 244.8L1646.8 245.5L1647.4 245.8L1647.4 245.1L1647.9 245.4L1647.9 245.1L1648.4 245.5L1648.4 245.3L1648.9 245.4L1648.9 245.2L1649.4 245.2L1649.4 245.9L1649.9 245.6L1649.9 245L1650.4 246.1L1650.4 245.9L1651.1 245.9L1651.1 245.7L1651.8 245.2L1651.8 245.6L1652.5 246.2L1652.5 245.3L1653.3 246.4L1653.3 245.7L1654 245.4L1654 245.8L1654.7 246.1L1654.7 245.5L1655.4 246.2L1655.4 245.6L1656.1 245.6L1656.1 246.2L1656.7 246L1656.7 245.7L1657.4 245.9L1657.4 245.6L1658.1 245.5L1658.1 246.5L1658.7 246.3L1658.7 245.7L1659.4 246L1659.4 245.5L1660 245.3L1660 246.4L1660.7 246.1L1660.7 245.2L1661.3 245.1L1661.3 246.2L1661.9 245.3L1661.9 245.8L1662.5 245.4L1662.5 246L1663.1 245.4L1663.1 246.1L1663.7 245.8L1663.7 246.2L1664.3 246.3L1664.3 245.6L1664.9 246.3L1664.9 245.6L1665.5 245.3L1665.5 246.3L1666.1 246.1L1666.1 245.3L1666.7 246.3L1666.7 245.7L1667.2 245.7L1667.2 246.2L1667.8 245.6L1667.8 246.1L1668.3 245.9L1668.3 246.3L1668.9 246.1L1669.4 246.6L1669.4 246.1L1670 245.8L1670 246.1L1670.5 245.5L1670.5 245.7L1671 246.6L1671 245.7L1671.6 246.3L1671.6 246.7L1672.1 245.4L1672.1 246.6L1672.6 245.8L1672.6 247.3L1673.1 246.9L1673.1 246.5L1673.6 247.2L1673.6 246.3L1674.1 246.5L1674.7 246.7L1674.7 245.7L1675.4 245.9L1675.4 247L1676 246.9L1676 245.8L1676.7 245.8L1676.7 246.6L1677.3 247.2L1677.3 246.1L1677.9 246.5L1677.9 246.8L1678.6 246.4L1678.6 246L1679.2 246.7L1679.2 245.9L1679.8 246L1679.8 246.3L1680.4 246.9L1680.4 246.2L1681 247.1L1681 246.2L1681.6 246.8L1681.6 245.8L1682.2 246.1L1682.2 246.9L1682.8 245.9L1682.8 246.4L1683.3 245.8L1683.3 246.4L1683.9 246.1L1683.9 246.6L1684.5 246.5L1684.5 246L1685 245.7L1685 246.3L1685.6 245.9L1685.6 247L1686.1 246.9L1686.1 246.1L1686.7 246.6L1686.7 246.9L1687.2 247L1687.2 246.8L1687.7 246.5L1687.7 247.2L1688.3 246.4L1688.3 246.9L1688.8 247.3L1688.8 246.4L1689.3 247.3L1689.3 246.6L1689.8 245.9L1689.8 247L1690.3 246.9L1690.3 246.2L1690.8 246.7L1690.8 246.4L1691.4 246.8L1691.4 246.1L1692 246.4L1692 247.1L1692.6 245.7L1692.6 247.1L1693.2 247L1693.2 246.7L1693.8 246.4L1693.8 247.1L1694.4 247.3L1694.4 246.2L1695 246.6L1695 247.3L1695.6 246.7L1695.6 247L1696.2 247.4L1696.2 246.5L1696.8 246L1696.8 246.9L1697.3 246.5L1697.3 246.9L1697.9 247.4L1697.9 246.6L1698.4 247.2L1698.4 246.5L1699 247.4L1699 246.4L1699.5 246L1699.5 247.1L1700.1 246.8L1700.1 247L1700.6 246.3L1700.6 246.9L1701.1 246.9L1701.1 246L1701.7 246.6L1701.7 247.4L1702.2 247.4L1702.2 246.1L1702.7 246.3L1702.7 247.3L1703.2 246.3L1703.2 247.2L1703.7 246.2L1703.7 247.1L1704.3 246.4L1704.3 247.4L1704.9 247.2L1704.9 246.6L1705.4 246.7L1705.4 247.6L1706 246.7L1706 247.2L1706.6 247.8L1706.6 246.8L1707.2 247.3L1707.2 246.3L1707.8 247.4L1707.8 246.8L1708.3 247.6L1708.3 246.8L1708.9 246.3L1708.9 247L1709.4 247L1709.4 247.6L1710 246.6L1710 247.2L1710.5 246.9L1710.5 247.9L1711.1 247.5L1711.1 246.7L1711.6 246.6L1711.6 247.4L1712.1 247.4L1712.1 246.2L1712.6 247.7L1712.6 246.4L1713.2 246.9L1713.2 246.1L1713.7 246.5L1713.7 247.7L1714.2 248L1714.2 247.1L1714.7 247.5L1714.7 246.7L1715.2 247.4L1715.2 246.8L1715.8 247.4L1715.8 246.9L1716.4 246.9L1716.4 247.6L1716.9 246.7L1716.9 247.7L1717.5 247.6L1717.5 246.7L1718.1 246.4L1718.1 247.4L1718.6 246.8L1718.6 247.2L1719.1 247.8L1719.1 247.1L1719.7 246.8L1719.7 247.9L1720.2 247.1L1720.2 247.9L1720.8 247.6L1720.8 246.8L1721.3 246.9L1721.3 247.7L1721.8 246.5L1721.8 247.6L1722.3 246.6L1722.3 247.7L1722.8 247.4L1722.8 246.9L1723.3 246.8L1723.3 247.7L1723.8 246.8L1723.8 248L1724.4 247.8L1724.4 246.8L1724.9 247L1724.9 247.8L1725.5 247.9L1725.5 246.5L1726.1 246.9L1726.1 247.8L1726.6 247.9L1726.6 246.7L1727.1 247.1L1727.1 247.9L1727.7 248L1727.7 246.9L1728.2 246.9L1728.2 248.1L1728.7 247.2L1728.7 247.8L1729.3 246.7L1729.3 247.4L1729.8 247.7L1729.8 246.7L1730.3 247.5L1730.3 246.6L1730.8 247.5L1730.8 246.9L1731.3 246.4L1731.3 247.2L1731.9 246.4L1731.9 247.5L1732.4 246.6L1732.4 247.7L1733 246.8L1733 247.9L1733.5 246.5L1733.5 247.5L1734.1 247.5L1734.1 246.7L1734.6 246.6L1734.6 247.6L1735.1 247.2L1735.1 247.8L1735.7 247.9L1735.7 247.1L1736.2 247.3L1736.2 248.2L1736.7 247.9L1736.7 246.8L1737.2 247.9L1737.2 246.8L1737.7 247.3L1737.7 247.9L1738.2 247.8L1738.2 247L1738.8 247L1738.8 247.5L1739.3 247.6L1739.3 247L1739.9 247.2L1739.9 248L1740.4 247.9L1740.4 246.9L1740.9 246.8L1740.9 247.7L1741.5 247L1741.5 247.9L1742 247L1742 248.1L1742.5 247.1L1742.5 248.2L1743 248L1743 247.2L1743.6 247L1743.6 247.7L1744.1 247L1744.1 247.5L1744.6 247.6L1744.6 247L1745.1 248L1745.1 246.8L1745.6 247.9L1745.6 247L1746.2 247.9L1746.2 247.1L1746.7 247.7L1746.7 246.8L1747.2 247.2L1747.2 248L1747.8 248.1L1747.8 247L1748.3 248.4L1748.3 247L1748.8 248.3L1748.8 247.5L1749.3 247.9L1749.3 247.3L1749.8 247.9L1749.8 247L1750.3 246.9L1750.3 248.4L1750.8 247.3L1750.8 248.1L1751.4 247.3L1751.4 248L1751.9 248.4L1751.9 247.3L1752.4 247.8L1752.4 247.1L1753 247.1L1753 248.2L1753.5 247.3L1753.5 248.1L1754 246.8L1754 247.8L1754.5 247L1754.5 247.9L1755 248.1L1755 247.1L1755.3 247.6" stroke="#440154" stroke-width="2.6"/>
<path d="M1311.1 94.2L1331.2 94.2L1371.8 123.3L1395.5 156.8L1412.4 148.4L1425.4 173L1436.1 181.2L1445.1 200.1L1452.9 182.4L1459.8 201.6L1466 198.2L1471.6 204.1L1476.7 211L1481.4 207L1485.7 201.6L1489.7 214.6L1493.5 214.6L1497.1 196.2L1500.4 179.9L1503.6 220.8L1506.6 203.1L1509.4 205.5L1512.2 201.6L1514.8 212.4L1517.3 207L1519.6 215.1L1521.9 211.4L1524.1 208.5L1526.3 216.4L1528.3 212.4L1530.3 209.5L1532.2 213.9L1534.1 216.4L1535.9 211.4L1537.6 193.2L1539.3 190.4L1541 209L1542.6 191.8L1544.2 206.5L1545.7 199L1547.2 204L1548.6 205.1L1550 200.5L1551.4 203.4L1552.7 201.3L1554.1 203.3L1555.3 198.2L1556.6 201.2L1557.8 202.2L1559 199.7L1560.2 193.7L1561.4 200.5L1562.5 201.5L1563.6 200L1564.7 197.2L1565.8 199.6L1566.9 207.8L1567.9 204.5L1568.9 202.3L1569.9 205.3L1570.9 210.5L1571.9 207L1572.8 207L1573.8 207L1574.7 207.6L1575.6 208.5L1576.5 207.7L1577.4 207.9L1578.2 205.9L1579.1 206.6L1579.9 206.1L1580.7 206.5L1581.6 205.1L1582.4 206.1L1583.2 209.4L1584 208.3L1584.7 208.8L1585.5 208L1586.3 209.5L1587 208.8L1587.7 208.1L1588.5 210.8L1589.2 211.4L1589.9 212.4L1590.6 209.2L1591.3 211.8L1592 211.7L1592.6 212.9L1593.3 210L1594 211.4L1594.6 211.6L1595.3 212.6L1595.9 213.2L1596.6 214.6L1597.2 214L1597.8 213.7L1598.4 214.1L1599 213L1599.6 213.7L1600.2 215.5L1600.8 213.1L1601.4 212.9L1602 214.6L1602.5 213.1L1603.1 212.6L1603.7 214.2L1604.2 214.1L1604.8 215.3L1605.3 213L1605.8 213.8L1606.4 213.3L1606.9 214.2L1607.4 215.2L1608 213.5L1608.5 216.1L1609 215.9L1609.5 214.4L1610.2 218.1L1610.2 217.1L1611.2 215.2L1611.2 216.4L1612.2 214.1L1612.2 217.1L1613.2 215.6L1614.1 216.7L1614.1 214.6L1615 215.7L1615 216.6L1615.9 217L1615.9 216.3L1616.8 215.6L1616.8 216.9L1617.7 215.2L1618.6 216.6L1618.6 215.7L1619.4 215.1L1619.4 216.6L1620.3 215.9L1620.3 217.1L1621.1 216.8L1621.1 215.9L1621.9 217.1L1621.9 215.8L1622.8 216.7L1622.8 215.8L1623.6 216.4L1624.3 215.4L1624.3 216L1625.1 216L1625.1 215.5L1625.9 216.3L1626.6 215.5L1626.6 216.1L1627.4 216.8L1627.4 215.7L1628.1 216.5L1628.1 215.6L1628.9 215.7L1629.6 215.6L1629.6 216.3L1630.3 217.5L1630.3 219.1L1631 216.9L1631 216.7L1631.7 215.9L1631.7 217L1632.4 214.5L1633.1 215.8L1633.1 216.7L1633.7 218.7L1633.7 217.4L1634.4 217L1634.4 215.4L1635 217.9L1635 216.8L1635.7 216.5L1635.7 217.1L1636.3 218.2L1636.3 216.4L1637 216.5L1637 217.5L1637.6 217.5L1637.6 218.8L1638.2 217.4L1638.2 217.1L1638.8 218.1L1638.8 217L1639.4 218.3L1639.4 219L1640 219.1L1640.6 218.9L1640.6 217.1L1641.2 216.8L1641.2 218.7L1641.8 217.1L1641.8 218.8L1642.4 218.2L1642.4 218.4L1643 219.2L1643 218.6L1643.5 219.2L1643.5 218.9L1644.1 218.8L1644.1 219.4L1644.7 217.6L1644.7 218.2L1645.2 219L1645.2 218.4L1645.7 218.6L1645.7 219.6L1646.3 218.5L1646.3 217.2L1646.8 218.9L1646.8 218.6L1647.4 220L1647.4 219.2L1647.9 218.1L1648.4 219.2L1648.9 218L1648.9 218.4L1649.4 218.6L1649.4 218.9L1649.9 218.4L1649.9 217.7L1650.4 217.2L1650.4 219.3L1651.1 217.4L1651.1 218.3L1651.8 217.4L1651.8 219.2L1652.5 218.6L1652.5 219.2L1653.3 219.4L1653.3 218.5L1654 218.6L1654 219.8L1654.7 218.7L1654.7 220.2L1655.4 218.4L1655.4 219.3L1656.1 218.5L1656.1 219.9L1656.7 218.9L1656.7 219.2L1657.4 219.5L1657.4 219.8L1658.1 219.2L1658.1 219.6L1658.7 218.9L1658.7 217.6L1659.4 219L1659.4 219.2L1660 218.1L1660 218.8L1660.7 219.9L1660.7 219L1661.3 219.6L1661.3 218.3L1661.9 219.4L1661.9 218.8L1662.5 220.4L1662.5 218.9L1663.1 220.8L1663.1 219.3L1663.7 220L1663.7 218.9L1664.3 220.1L1664.3 219.2L1664.9 219.5L1664.9 218.8L1665.5 219.2L1665.5 219.9L1666.1 219.6L1666.1 218.7L1666.7 219.9L1666.7 219.5L1667.2 220.3L1667.2 219L1667.8 219.2L1667.8 219.9L1668.3 219L1668.3 218.3L1668.9 220.4L1668.9 220.2L1669.4 219.6L1669.4 220.2L1670 219.1L1670 220.7L1670.5 219.8L1670.5 220.6L1671 220L1671 220.4L1671.6 220.1L1671.6 219L1672.1 221L1672.1 220L1672.6 219.7L1672.6 220.9L1673.1 220L1673.1 220.5L1673.6 220.1L1673.6 220.9L1674.1 219.7L1674.1 220.9L1674.7 219.5L1674.7 220.8L1675.4 219.9L1675.4 220.4L1676 220.4L1676 219.5L1676.7 219.8L1676.7 220.9L1677.3 221.5L1677.3 220.4L1677.9 220L1677.9 220.3L1678.6 220L1678.6 220.6L1679.2 221.9L1679.2 219.9L1679.8 220.7L1679.8 220.1L1680.4 219.8L1680.4 221.6L1681 220L1681 220.5L1681.6 219.9L1681.6 221.1L1682.2 221.3L1682.2 219.9L1682.8 221L1682.8 219.4L1683.3 220.2L1683.3 219.9L1683.9 219.9L1683.9 220.6L1684.5 220.6L1684.5 219.9L1685 220.9L1685 219.9L1685.6 220.6L1685.6 219.9L1686.1 220.2L1686.1 219.4L1686.7 219.2L1686.7 220.5L1687.2 219.7L1687.2 220.2L1687.7 219.7L1687.7 220.3L1688.3 220.3L1688.3 221.7L1688.8 221.6L1688.8 220.3L1689.3 221.1L1689.3 220L1689.8 220.8L1689.8 221.5L1690.3 221.5L1690.3 220.6L1690.8 221.1L1690.8 219.9L1691.4 221.1L1691.4 220.1L1692 220.2L1692 221.7L1692.6 221.4L1692.6 220.1L1693.2 221.8L1693.2 220.1L1693.8 220.5L1693.8 221.6L1694.4 221.3L1694.4 220.4L1695 222.1L1695 220.8L1695.6 220.4L1695.6 221.8L1696.2 221.9L1696.2 220.8L1696.8 220.4L1696.8 222.3L1697.3 222L1697.3 220.4L1697.9 220.8L1697.9 221.8L1698.4 222.2L1698.4 221.4L1699 221.2L1699 222.3L1699.5 221.6L1699.5 222.1L1700.1 220.4L1700.1 221.7L1700.6 221.6L1700.6 220.1L1701.1 221.2L1701.1 220.6L1701.7 221.4L1701.7 220.4L1702.2 220.3L1702.2 221.1L1702.7 221.8L1702.7 221L1703.2 222L1703.2 220.5L1703.7 220.3L1703.7 221.4L1704.3 221.4L1704.3 220.7L1704.9 220.9L1704.9 221.9L1705.4 221.7L1705.4 220.6L1706 222.2L1706 220.9L1706.6 220.8L1706.6 222.1L1707.2 222.4L1707.2 220.6L1707.8 220.8L1707.8 221.7L1708.3 221.5L1708.3 220.8L1708.9 222.1L1708.9 220.7L1709.4 221.7L1709.4 221.2L1710 221.8L1710 220.6L1710.5 222.2L1710.5 220.9L1711.1 221L1711.1 222.5L1711.6 220.8L1711.6 221.8L1712.1 221.8L1712.1 221.2L1712.6 221L1712.6 222.1L1713.2 221.7L1713.2 220.6L1713.7 220.3L1713.7 221.5L1714.2 220.9L1714.2 222.1L1714.7 220.4L1714.7 221.7L1715.2 221.8L1715.2 220.5L1715.8 221L1715.8 222L1716.4 221.6L1716.4 220.9L1716.9 222.1L1716.9 220.7L1717.5 221.1L1717.5 221.9L1718.1 220.5L1718.1 221.9L1718.6 220.9L1718.6 221.7L1719.1 220.7L1719.1 222.3L1719.7 220.9L1719.7 222L1720.2 221.9L1720.2 221.5L1720.8 222.4L1720.8 221.4L1721.3 222.5L1721.3 220.9L1721.8 220.8L1721.8 221.8L1722.3 222L1722.3 221L1722.8 222.1L1722.8 220.9L1723.3 220.7L1723.3 221.4L1723.8 222.2L1723.8 220.4L1724.4 222L1724.4 220.5L1724.9 220.7L1724.9 222.2L1725.5 220.3L1725.5 222.6L1726.1 222.3L1726.1 220.7L1726.6 220.5L1726.6 221.8L1727.1 220.9L1727.1 221.8L1727.7 222.2L1727.7 221.1L1728.2 222.1L1728.2 220.9L1728.7 222.3L1728.7 220.8L1729.3 222.5L1729.3 220.9L1729.8 222.1L1729.8 221.2L1730.3 222.2L1730.3 221.4L1730.8 221.3L1730.8 222.1L1731.3 222.5L1731.3 221.4L1731.9 222.3L1731.9 221L1732.4 222.5L1732.4 220.9L1733 221L1733 222L1733.5 220.9L1733.5 222.2L1734.1 222.2L1734.1 220.9L1734.6 221.2L1734.6 222.2L1735.1 221L1735.1 222.3L1735.7 222.2L1735.7 221.1L1736.2 221.9L1736.2 221.3L1736.7 221.2L1736.7 222.1L1737.2 222.3L1737.2 221.7L1737.7 221.1L1737.7 222.4L1738.2 221.2L1738.2 222.5L1738.8 221.5L1738.8 222.6L1739.3 221.4L1739.3 223L1739.9 222.5L1739.9 220.9L1740.4 222.3L1740.4 221.2L1740.9 220.9L1740.9 222.7L1741.5 222.6L1741.5 220.6L1742 221.4L1742 222.4L1742.5 222.4L1742.5 221.5L1743 222.5L1743 221.3L1743.6 220.9L1743.6 222.7L1744.1 221.1L1744.1 222.6L1744.6 222.4L1744.6 220.9L1745.1 221.6L1745.1 222.5L1745.6 221.5L1745.6 222.7L1746.2 222.7L1746.2 221.4L1746.7 221.4L1746.7 222.5L1747.2 222.9L1747.2 221.5L1747.8 222.6L1747.8 221.5L1748.3 222.7L1748.3 221.2L1748.8 221.3L1748.8 222.5L1749.3 221.1L1749.3 222.4L1749.8 222.5L1749.8 221.3L1750.3 221L1750.3 222L1750.8 221.6L1750.8 222.3L1751.4 222.8L1751.4 221.6L1751.9 223.1L1751.9 221.6L1752.4 221.6L1752.4 222.5L1753 222.3L1753 221.4L1753.5 222.6L1753.5 221.4L1754 221.5L1754 222.4L1754.5 222.3L1754.5 221.4L1755 221.2L1755 222.5L1755.3 221.3" stroke="#2a788e" stroke-width="2.6"/>
<path d="M1311.1 85.4L1331.2 85.4L1371.8 107.7L1395.5 143L1412.4 147.7L1425.4 161.2L1436.1 167.6L1445.1 154.8L1452.9 179.8L1459.8 187.3L1466 182.4L1471.6 191.3L1476.7 188.5L1481.4 193.4L1485.7 197.7L1489.7 203.1L1493.5 193.4L1497.1 202.1L1500.4 177L1503.6 196.2L1506.6 192.2L1509.4 197.7L1512.2 190.8L1514.8 201.6L1517.3 186.8L1519.6 171.6L1521.9 184.4L1524.1 191.8L1526.3 174.5L1528.3 167.1L1530.3 158L1532.2 179.4L1534.1 187.8L1535.9 172.1L1537.6 166.1L1539.3 179.4L1541 162.2L1542.6 176.9L1544.2 160.1L1545.7 174.5L1547.2 166.4L1548.6 171.9L1550 172.9L1551.4 165.9L1552.7 178.7L1554.1 173.1L1555.3 170.2L1556.6 168.1L1557.8 169.7L1559 146.8L1560.2 159.3L1561.4 165.1L1562.5 150.2L1563.6 162.4L1564.7 165.9L1565.8 168.2L1566.9 170.7L1567.9 161.6L1568.9 167.2L1569.9 154.7L1570.9 154.9L1571.9 155.7L1572.8 143.1L1573.8 163L1574.7 161.8L1575.6 167.3L1576.5 147.3L1577.4 171.9L1578.2 164.6L1579.1 165L1579.9 158.1L1580.7 164.9L1581.6 164L1582.4 162.5L1583.2 161.9L1584 162.3L1584.7 163.4L1585.5 164.3L1586.3 165.8L1587 167.6L1587.7 167.4L1588.5 166.4L1589.2 169.5L1589.9 169.4L1590.6 170.5L1591.3 168.2L1592 173.1L1592.6 169.1L1593.3 172.1L1594 168.8L1594.6 168.2L1595.3 175L1595.9 171.9L1596.6 170.9L1597.2 170.1L1597.8 170.3L1598.4 169.6L1599 171.5L1599.6 174.1L1600.2 171.6L1600.8 175.4L1601.4 173.9L1602 176.6L1602.5 174.7L1603.1 174.5L1603.7 174.9L1604.2 172.4L1604.8 175.1L1605.3 176.8L1605.8 172.4L1606.4 172.3L1606.9 177.8L1607.4 176.6L1608 173.8L1608.5 178.3L1609 177.6L1609.5 175.1L1610.2 177.8L1610.2 178.3L1611.2 176.4L1611.2 178.9L1612.2 178.9L1612.2 178.3L1613.2 182L1613.2 179.4L1614.1 176.2L1614.1 178.3L1615 180.9L1615 177.6L1615.9 179.2L1615.9 182.8L1616.8 179.3L1616.8 178.1L1617.7 177.6L1617.7 179.2L1618.6 180.7L1618.6 180.3L1619.4 181.2L1619.4 182.7L1620.3 181L1620.3 180.8L1621.1 181.4L1621.1 181.7L1621.9 179.9L1621.9 180L1622.8 181.1L1622.8 182.4L1623.6 183.6L1623.6 180.2L1624.3 182.3L1624.3 181.3L1625.1 181.5L1625.1 181.3L1625.9 179L1625.9 181.5L1626.6 183.1L1626.6 180.8L1627.4 181.7L1627.4 180.8L1628.1 183.2L1628.9 183.4L1628.9 182L1629.6 182.6L1629.6 183.5L1630.3 182.5L1631 182.5L1631 179.1L1631.7 184.4L1631.7 182L1632.4 183.9L1632.4 181L1633.1 184.6L1633.1 182.7L1633.7 182.9L1634.4 181.8L1634.4 184.2L1635 184.9L1635 182.5L1635.7 183.3L1636.3 184.3L1636.3 181L1637 182.3L1637 183L1637.6 181.5L1638.2 184.2L1638.2 183.5L1638.8 181.7L1638.8 182.8L1639.4 184L1639.4 183.5L1640 183.3L1640 182.9L1640.6 181.9L1640.6 183L1641.2 183.6L1641.2 183.3L1641.8 181.8L1641.8 184.5L1642.4 182.8L1642.4 183.5L1643 183.4L1643 184L1643.5 182.7L1643.5 185.2L1644.1 185.1L1644.1 184L1644.7 181.9L1644.7 184L1645.2 184.4L1645.2 183L1645.7 182.5L1645.7 184.6L1646.3 183.3L1646.3 185.5L1646.8 183L1646.8 184.1L1647.4 183.3L1647.4 182.5L1647.9 183L1648.4 184.6L1648.4 182.3L1648.9 184.9L1648.9 184.2L1649.4 183.6L1649.4 184.9L1649.9 184.1L1649.9 185.7L1650.4 184.7L1650.4 184.3L1651.1 183.8L1651.1 185.9L1651.8 184.1L1651.8 185L1652.5 183.4L1652.5 184L1653.3 183.5L1653.3 185.7L1654 185.5L1654 184.5L1654.7 185.9L1654.7 185.6L1655.4 186.2L1655.4 184.1L1656.1 184L1656.1 184.5L1656.7 185.8L1656.7 184L1657.4 183.5L1657.4 185.8L1658.1 185.9L1658.1 183.7L1658.7 184.7L1658.7 186L1659.4 186.7L1659.4 184.1L1660 184.7L1660 183.8L1660.7 186L1660.7 184.9L1661.3 184.5L1661.3 185.6L1661.9 185.1L1661.9 185.5L1662.5 185.6L1662.5 186.2L1663.1 184.8L1663.1 185.5L1663.7 186.5L1663.7 186.6L1664.3 185.7L1664.3 185.2L1664.9 185L1665.5 185.7L1665.5 186.9L1666.1 187L1666.1 185.6L1666.7 185.4L1666.7 186.1L1667.2 183.5L1667.2 185.9L1667.8 184.5L1667.8 186.4L1668.3 185.8L1668.3 186L1668.9 185.9L1668.9 186.2L1669.4 186.1L1669.4 185.3L1670 186.4L1670 184.7L1670.5 185.8L1670.5 184.7L1671 184.2L1671 184.6L1671.6 184.5L1671.6 185.3L1672.1 184.7L1672.1 186.5L1672.6 184.3L1672.6 186L1673.1 185.2L1673.1 185.8L1673.6 185.3L1673.6 183.3L1674.1 184.6L1674.1 183.7L1674.7 185.8L1674.7 183.8L1675.4 184.1L1675.4 185.9L1676 184.9L1676 185.3L1676.7 183.9L1676.7 186.3L1677.3 183.9L1677.3 186.4L1677.9 184.8L1677.9 186.1L1678.6 185.8L1678.6 184.5L1679.2 185.9L1679.2 184.5L1679.8 186.2L1679.8 184.3L1680.4 185L1680.4 187L1681 186.3L1681 185.6L1681.6 184.8L1681.6 186.5L1682.2 184.4L1682.2 185.8L1682.8 185.3L1682.8 187.1L1683.3 187.2L1683.3 185.9L1683.9 185.2L1683.9 187.1L1684.5 186.6L1684.5 184.9L1685 186.2L1685 185.4L1685.6 186.3L1685.6 185.8L1686.1 187.3L1686.1 185.2L1686.7 187L1686.7 186.1L1687.2 186.3L1687.2 185.2L1687.7 186.8L1687.7 185.9L1688.3 186.3L1688.3 185.4L1688.8 186.4L1688.8 185.6L1689.3 186.9L1689.3 185.7L1689.8 187.1L1689.8 185.5L1690.3 185.9L1690.3 185.4L1690.8 186.5L1690.8 185.9L1691.4 185.3L1691.4 187L1692 187.1L1692 186.1L1692.6 185.4L1692.6 187.2L1693.2 185.6L1693.2 186.6L1693.8 186L1693.8 187.5L1694.4 187.9L1694.4 185.8L1695 187.1L1695 186.6L1695.6 185.5L1695.6 187.1L1696.2 187L1696.2 186L1696.8 185.7L1696.8 187.4L1697.3 186L1697.3 186.7L1697.9 186.2L1697.9 185.8L1698.4 185.6L1698.4 186.4L1699 185.3L1699 186.5L1699.5 186.7L1699.5 185.7L1700.1 185.2L1700.1 186.9L1700.6 187.6L1700.6 186L1701.1 187.5L1701.1 185.3L1701.7 186.4L1701.7 187L1702.2 187.4L1702.2 186.3L1702.7 186.6L1702.7 187.3L1703.2 187L1703.2 186.2L1703.7 186.4L1703.7 187.4L1704.3 187.9L1704.3 185.9L1704.9 186.2L1704.9 187.4L1705.4 187.3L1705.4 186.1L1706 187.8L1706 184.9L1706.6 186.6L1706.6 187.6L1707.2 185.8L1707.2 186.6L1707.8 185.5L1707.8 187.2L1708.3 187L1708.3 185.8L1708.9 187.8L1708.9 186.7L1709.4 185.7L1709.4 187.6L1710 186.3L1710 187.6L1710.5 187.6L1710.5 186.3L1711.1 187.1L1711.1 188.5L1711.6 188.4L1711.6 186.8L1712.1 188.3L1712.1 187.3L1712.6 187.5L1712.6 186.7L1713.2 187.7L1713.2 186.4L1713.7 186.3L1713.7 187.6L1714.2 185.8L1714.2 187L1714.7 186.6L1714.7 187.3L1715.2 187.1L1715.2 185.9L1715.8 187.7L1715.8 186.5L1716.4 187.9L1716.4 186L1716.9 186.3L1716.9 188.4L1717.5 186.5L1717.5 187.4L1718.1 187.4L1718.1 186.6L1718.6 186.5L1718.6 187.3L1719.1 186.4L1719.1 187.3L1719.7 188.3L1719.7 186.4L1720.2 187.9L1720.2 186.5L1720.8 188L1720.8 186.1L1721.3 186L1721.3 187.1L1721.8 187.5L1721.8 186.3L1722.3 186.2L1722.3 186.9L1722.8 187.5L1722.8 185.8L1723.3 187.2L1723.3 186.1L1723.8 186.2L1723.8 187.6L1724.4 187.7L1724.4 186.1L1724.9 186.4L1724.9 187.6L1725.5 187.6L1725.5 186.9L1726.1 186.6L1726.1 188.3L1726.6 186.5L1726.6 188.1L1727.1 187.8L1727.1 186.6L1727.7 186.6L1727.7 188.1L1728.2 188.7L1728.2 186.7L1728.7 187.6L1728.7 186.8L1729.3 186.4L1729.3 187.3L1729.8 187.5L1729.8 186.4L1730.3 186.3L1730.3 188.1L1730.8 186.7L1730.8 187.9L1731.3 186.8L1731.3 187.7L1731.9 188L1731.9 186.7L1732.4 187.9L1732.4 186.6L1733 186.4L1733 187.4L1733.5 186.2L1733.5 188.1L1734.1 186.6L1734.1 188.4L1734.6 188.5L1734.6 186.1L1735.1 186.1L1735.1 187.9L1735.7 187.1L1735.7 188.3L1736.2 188.4L1736.2 186.8L1736.7 187.2L1736.7 187.8L1737.2 187.3L1737.2 188.2L1737.7 186.8L1737.7 188.9L1738.2 186.8L1738.2 187.6L1738.8 188.1L1738.8 186.3L1739.3 187.1L1739.3 188.6L1739.9 187.8L1739.9 186.7L1740.4 186.6L1740.4 188.1L1740.9 188.3L1740.9 186.9L1741.5 187.1L1741.5 188.2L1742 186.7L1742 188.1L1742.5 188.2L1742.5 186.5L1743 188.7L1743 187L1743.6 188.4L1743.6 187.3L1744.1 188.1L1744.1 186.6L1744.6 187.2L1744.6 188.3L1745.1 188.5L1745.1 187L1745.6 186.9L1745.6 188.6L1746.2 188.3L1746.2 186.9L1746.7 188.7L1746.7 186.8L1747.2 187.2L1747.2 188L1747.8 187.3L1747.8 188L1748.3 188.2L1748.3 186.6L1748.8 187L1748.8 188.3L1749.3 187.5L1749.3 188.4L1749.8 186.4L1749.8 188.3L1750.3 188.1L1750.3 186.8L1750.8 188.2L1750.8 186.7L1751.4 187.8L1751.4 186.4L1751.9 186.2L1751.9 188.1L1752.4 186.9L1752.4 187.9L1753 187L1753 188.5L1753.5 186.3L1753.5 188.2L1754 187.2L1754 188.3L1754.5 187.1L1754.5 188.4L1755 188.2L1755 186.8L1755.3 187.9" stroke="#7ad151" stroke-width="2.6"/>
</g>
<path d="M1310.3 260.2v2.5M1318.1 260.2v2.5M1325 260.2v2.5M1331.2 260.2v4.1M1371.8 260.2v2.5M1395.5 260.2v2.5M1412.4 260.2v2.5M1425.4 260.2v2.5M1436.1 260.2v2.5M1445.1 260.2v2.5M1452.9 260.2v2.5M1459.8 260.2v2.5M1466 260.2v4.1M1506.6 260.2v2.5M1530.3 260.2v2.5M1547.2 260.2v2.5M1560.2 260.2v2.5M1570.9 260.2v2.5M1579.9 260.2v2.5M1587.7 260.2v2.5M1594.6 260.2v2.5M1600.8 260.2v4.1M1641.4 260.2v2.5M1665.1 260.2v2.5M1682 260.2v2.5M1695 260.2v2.5M1705.7 260.2v2.5M1714.7 260.2v2.5M1722.5 260.2v2.5M1729.4 260.2v2.5M1735.6 260.2v4.1M1776.2 260.2v2.5M1309.8 241.4h-4.2M1309.8 191.8h-4.2M1309.8 142.2h-4.2M1309.8 92.6h-4.2M1309.8 43h-4.2" stroke="#585858" stroke-width="1.05" fill="none"/>
<path d="M1309.8 2V260.2H1776.7V2" stroke="#585858" stroke-width="1.45" fill="none"/>
<rect x="1309.4" y="0" width="468.1" height="1" fill="#bcbcbc"/>
<rect x="1309.1" y="1" width="468.4" height="1" fill="#7a7a7a"/>
<text transform="translate(1301.4 249.3) scale(1 1.07)" text-anchor="end" font-size="20.25">0.1</text>
<text transform="translate(1301.4 199.7) scale(1 1.07)" text-anchor="end" font-size="20.25">0.2</text>
<text transform="translate(1301.4 150.1) scale(1 1.07)" text-anchor="end" font-size="20.25">0.3</text>
<text transform="translate(1301.4 100.5) scale(1 1.07)" text-anchor="end" font-size="20.25">0.4</text>
<text transform="translate(1301.4 50.9) scale(1 1.07)" text-anchor="end" font-size="20.25">0.5</text>
<text transform="translate(1258.9 130.8) rotate(-90)" text-anchor="middle" font-size="23.7">Test Error</text>
<path d="M1568.3 24.5H1606.4" stroke="#440154" stroke-width="2.6" fill="none"/>
<text x="1618.5" y="30.3" font-size="17.8">0% label noise</text>
<path d="M1568.3 51H1606.4" stroke="#2a788e" stroke-width="2.6" fill="none"/>
<text x="1618.5" y="56.8" font-size="17.8">10% label noise</text>
<path d="M1568.3 77.5H1606.4" stroke="#7ad151" stroke-width="2.6" fill="none"/>
<text x="1618.5" y="83.3" font-size="17.8">20% label noise</text>
</g>
<g class="dv" id="A4">
<g class="ln">
<path d="M69.6 427.3L89.3 427.3L124.8 452.3L145.6 468.9L160.3 480.4L171.8 488.6L181.1 495.1L189 500.5L195.9 505.1L201.9 509L207.3 512.4L212.2 515.5L216.6 518.4L220.7 521.1L224.5 523.7L228.1 526.2L231.4 528.5L234.5 530.6L237.4 532.5L240.2 534.1L242.8 535.7L245.3 537.1L247.7 538.4L250 539.6L252.2 540.8L254.3 541.8L256.3 542.7L258.2 543.5L260.1 544.2L261.9 544.9L263.6 545.4L265.3 546L266.9 546.5L268.5 546.9L270 547.3L271.5 547.7L272.9 548.1L274.3 548.4L275.7 548.7L277 549.1L278.3 549.4L279.6 549.6L280.8 549.9L282.6 550.3L284.9 550.8L287.1 551.2L289.3 551.6L291.3 552L293.2 552.4L295.1 552.7L296.9 553L298.7 553.3L300.4 553.5L302 553.7L303.6 553.9L305.2 554.1L306.7 554.3L308.1 554.4L309.5 554.6L310.9 554.7L312.2 554.9L313.5 555L314.8 555.1L316.1 555.2L317.6 555.4L319.3 555.5L321 555.6L322.7 555.8L324.3 555.9L325.8 556L327.3 556.1L328.8 556.2L330.2 556.3L331.6 556.4L332.9 556.4L334.2 556.5L335.5 556.6L336.7 556.7L338.1 556.7L339.7 556.8L341.2 556.9L342.7 556.9L344.2 557L345.6 557.1L346.9 557.1L348.3 557.2L349.5 557.2L350.8 557.3L352 557.3L353.4 557.4L354.8 557.4L356.3 557.5L357.6 557.5L359 557.6L360.3 557.6L361.6 557.6L362.8 557.7L364 557.7L365.4 557.7L366.7 557.7L368.1 557.8L369.4 557.8L370.7 557.8L371.9 557.8L373.2 557.8L374.5 557.9L375.8 557.9L377.1 557.9L378.4 557.9L379.7 557.9L380.9 557.9L382.2 557.9L383.5 558L384.8 558L386.1 558L387.3 558L388.6 558L389.9 558L391.2 558L392.5 558L393.7 558L395 558L396.3 558L397.5 558L398.8 558L400 558L401.3 558.1L402.6 558.1L403.8 558.1L405.1 558.1L406.4 558.1L407.6 558.1L408.8 558.1L410.1 558.1L411.3 558.1L412.6 558.1L413.8 558.1L415.1 558.1L416.3 558.1L417.5 558.1L418.8 558.1L420 558.1L421.3 558.1L422.5 558.1L423.7 558.1L424.9 558.1L426.2 558.1L427.4 558.1L428.7 558.1L429.9 558.1L431.2 558.1L432.4 558.1L433.6 558.1L434.8 558.1L436 558.1L437.3 558.1L438.5 558.1L439.7 558.1L440.9 558.1L442.2 558.1L443.4 558.1L444.6 558.1L445.8 558.1L447.1 558.1L448.3 558.1L449.5 558.1L450.7 558.1L452 558.1L453.2 558.1L454.4 558.1L455.6 558.1L456.9 558.1L458.1 558.1L459.3 558.1L460.5 558.1L461.8 558.1L463 558.1L464.2 558.1L465.4 558.1L466.6 558.1L467.8 558.1L469.1 558.1L470.3 558.1L471.5 558.1L472.7 558.1L473.9 558.1L475.1 558.1L476.3 558.1L477.5 558.1L478.7 558.1L479.9 558.1L481.2 558.1L482.4 558.1L483.6 558.1L484.8 558.1L486 558.1L487.2 558.1L488.4 558.1L489.6 558.1L490.9 558.1L492.1 558.1L493.3 558.1L494.5 558.1L495.7 558.1L496.9 558.1L498.1 558.1L499.3 558.1L500.5 558.1L501.7 558.1L503 558.1L504.2 558.1L505.4 558.1L506.6 558.1L507.8 558.1L509 558.1L510.2 558.1L511.4 558.1L512.6 558.1L513.8 558.1L514.3 558.1" stroke="#440154" stroke-width="2.6"/>
<path d="M69.6 396.9L89.3 396.9L124.8 419.8L145.6 436.4L160.3 447.7L171.8 455.3L181.1 461.2L189 466.2L195.9 470.7L201.9 474.6L207.3 478.2L212.2 481.4L216.6 484.2L220.7 486.8L224.5 489.1L228.1 491.2L231.4 493.2L234.5 495L237.4 496.8L240.2 498.4L242.8 500L245.3 501.5L247.7 502.9L250 504.2L252.2 505.5L254.3 506.8L256.3 508L258.2 509.2L260.1 510.3L261.9 511.5L263.6 512.6L265.3 513.7L266.9 514.8L268.5 515.9L270 516.9L271.5 517.9L272.9 518.9L274.3 519.8L275.7 520.7L277 521.6L278.3 522.5L279.6 523.4L280.8 524.2L282.6 525.5L284.9 527.1L287.1 528.7L289.3 530.3L291.3 531.7L293.2 533.1L295.1 534.5L296.9 535.8L298.7 537.1L300.4 538.2L302 539.2L303.6 540.2L305.2 541.1L306.7 541.9L308.1 542.7L309.5 543.4L310.9 544.1L312.2 544.7L313.5 545.2L314.8 545.7L316.1 546.2L317.6 546.7L319.3 547.3L321 547.9L322.7 548.3L324.3 548.8L325.8 549.2L327.3 549.5L328.8 549.8L330.2 550.2L331.6 550.5L332.9 550.8L334.2 551L335.5 551.3L336.7 551.6L338.1 551.9L339.7 552.2L341.2 552.5L342.7 552.7L344.2 552.9L345.6 553.1L346.9 553.3L348.3 553.5L349.5 553.6L350.8 553.8L352 554L353.4 554.1L354.8 554.3L356.3 554.4L357.6 554.6L359 554.7L360.3 554.9L361.6 555L362.8 555.1L364 555.2L365.4 555.3L366.7 555.5L368.1 555.6L369.4 555.7L370.7 555.8L371.9 555.9L373.2 556L374.5 556.2L375.8 556.3L377.1 556.4L378.4 556.4L379.7 556.5L380.9 556.6L382.2 556.7L383.5 556.8L384.8 556.8L386.1 556.9L387.3 557L388.6 557L389.9 557.1L391.2 557.1L392.5 557.2L393.7 557.2L395 557.3L396.3 557.3L397.5 557.4L398.8 557.4L400 557.4L401.3 557.5L402.6 557.5L403.8 557.6L405.1 557.6L406.4 557.6L407.6 557.7L408.8 557.7L410.1 557.7L411.3 557.8L412.6 557.8L413.8 557.8L415.1 557.8L416.3 557.9L417.5 557.9L418.8 557.9L420 557.9L421.3 557.9L422.5 557.9L423.7 557.9L424.9 558L426.2 558L427.4 558L428.7 558L429.9 558L431.2 558L432.4 558L433.6 558L434.8 558L436 558L437.3 558L438.5 558L439.7 558L440.9 558L442.2 558L443.4 558L444.6 558L445.8 558L447.1 558L448.3 558L449.5 558L450.7 558L452 558L453.2 558L454.4 558L455.6 558L456.9 558.1L458.1 558.1L459.3 558.1L460.5 558.1L461.8 558.1L463 558.1L464.2 558.1L465.4 558.1L466.6 558.1L467.8 558.1L469.1 558.1L470.3 558.1L471.5 558.1L472.7 558.1L473.9 558.1L475.1 558.1L476.3 558.1L477.5 558.1L478.7 558.1L479.9 558.1L481.2 558.1L482.4 558.1L483.6 558.1L484.8 558.1L486 558.1L487.2 558.1L488.4 558.1L489.6 558.1L490.9 558.1L492.1 558.1L493.3 558.1L494.5 558.1L495.7 558.1L496.9 558.1L498.1 558.1L499.3 558.1L500.5 558.1L501.7 558.1L503 558.1L504.2 558.1L505.4 558.1L506.6 558.1L507.8 558.1L509 558.1L510.2 558.1L511.4 558.1L512.6 558.1L513.8 558.1L514.3 558.1" stroke="#2a788e" stroke-width="2.6"/>
<path d="M69.6 371.7L89.3 371.7L124.8 390.6L145.6 404.1L160.3 413.4L171.8 419.7L181.1 424.6L189 429L195.9 433.2L201.9 437L207.3 440.6L212.2 443.7L216.6 446.5L220.7 449L224.5 451.1L228.1 453L231.4 454.8L234.5 456.4L237.4 458.1L240.2 459.7L242.8 461.2L245.3 462.8L247.7 464.2L250 465.7L252.2 467.1L254.3 468.5L256.3 469.8L258.2 471.2L260.1 472.5L261.9 473.8L263.6 475.1L265.3 476.4L266.9 477.7L268.5 479L270 480.3L271.5 481.7L272.9 483.1L274.3 484.5L275.7 486L277 487.4L278.3 488.9L279.6 490.5L280.8 492L282.6 494.4L284.9 497.7L287.1 501.1L289.3 504.4L291.3 507.6L293.2 510.5L295.1 513.5L296.9 516.3L298.7 519L300.4 521.4L302 523.5L303.6 525.5L305.2 527.4L306.7 529.1L308.1 530.7L309.5 532.1L310.9 533.4L312.2 534.6L313.5 535.7L314.8 536.7L316.1 537.7L317.6 538.7L319.3 539.9L321 540.9L322.7 541.7L324.3 542.5L325.8 543.1L327.3 543.7L328.8 544.3L330.2 544.8L331.6 545.3L332.9 545.8L334.2 546.3L335.5 546.7L336.7 547.2L338.1 547.7L339.7 548.2L341.2 548.6L342.7 549L344.2 549.4L345.6 549.7L346.9 550.1L348.3 550.4L349.5 550.7L350.8 550.9L352 551.2L353.4 551.5L354.8 551.7L356.3 552L357.6 552.2L359 552.5L360.3 552.7L361.6 552.9L362.8 553.1L364 553.2L365.4 553.4L366.7 553.6L368.1 553.8L369.4 553.9L370.7 554.1L371.9 554.2L373.2 554.4L374.5 554.5L375.8 554.7L377.1 554.8L378.4 554.9L379.7 555L380.9 555.1L382.2 555.2L383.5 555.3L384.8 555.4L386.1 555.5L387.3 555.6L388.6 555.7L389.9 555.8L391.2 555.8L392.5 555.9L393.7 556L395 556L396.3 556.1L397.5 556.2L398.8 556.2L400 556.3L401.3 556.3L402.6 556.4L403.8 556.5L405.1 556.5L406.4 556.6L407.6 556.6L408.8 556.7L410.1 556.8L411.3 556.8L412.6 556.9L413.8 556.9L415.1 557L416.3 557L417.5 557.1L418.8 557.1L420 557.2L421.3 557.2L422.5 557.2L423.7 557.3L424.9 557.3L426.2 557.3L427.4 557.4L428.7 557.4L429.9 557.5L431.2 557.5L432.4 557.5L433.6 557.6L434.8 557.6L436 557.6L437.3 557.6L438.5 557.7L439.7 557.7L440.9 557.7L442.2 557.7L443.4 557.7L444.6 557.7L445.8 557.8L447.1 557.8L448.3 557.8L449.5 557.8L450.7 557.8L452 557.8L453.2 557.8L454.4 557.8L455.6 557.9L456.9 557.9L458.1 557.9L459.3 557.9L460.5 557.9L461.8 557.9L463 557.9L464.2 557.9L465.4 557.9L466.6 557.9L467.8 557.9L469.1 557.9L470.3 558L471.5 558L472.7 558L473.9 558L475.1 558L476.3 558L477.5 558L478.7 558L479.9 558L481.2 558L482.4 558L483.6 558L484.8 558L486 558L487.2 558L488.4 558L489.6 558L490.9 558L492.1 558L493.3 558L494.5 558L495.7 558L496.9 558L498.1 558L499.3 558L500.5 558L501.7 558.1L503 558.1L504.2 558.1L505.4 558.1L506.6 558.1L507.8 558.1L509 558.1L510.2 558.1L511.4 558.1L512.6 558.1L513.8 558.1L514.3 558.1" stroke="#7ad151" stroke-width="2.6"/>
</g>
<path d="M71 570v2.5M77.9 570v2.5M83.9 570v2.5M89.3 570v4.1M124.8 570v2.5M145.6 570v2.5M160.3 570v2.5M171.8 570v2.5M181.1 570v2.5M189 570v2.5M195.9 570v2.5M201.9 570v2.5M207.3 570v4.1M242.8 570v2.5M263.6 570v2.5M278.3 570v2.5M289.8 570v2.5M299.1 570v2.5M307 570v2.5M313.9 570v2.5M319.9 570v2.5M325.3 570v4.1M360.8 570v2.5M381.6 570v2.5M396.3 570v2.5M407.8 570v2.5M417.1 570v2.5M425 570v2.5M431.9 570v2.5M437.9 570v2.5M443.3 570v4.1M478.8 570v2.5M499.6 570v2.5M514.3 570v2.5M525.8 570v2.5M535.1 570v2.5M68.3 558.1h-4.2M68.3 485h-4.2M68.3 411.9h-4.2M68.3 338.8h-4.2" stroke="#585858" stroke-width="1.05" fill="none"/>
<rect x="68.3" y="312.6" width="466.8" height="257.4" stroke="#585858" stroke-width="1.45" fill="none"/>
<text x="60.3" y="565.8" text-anchor="end" font-size="21">0.0</text>
<text x="60.3" y="492.7" text-anchor="end" font-size="21">0.2</text>
<text x="60.3" y="419.6" text-anchor="end" font-size="21">0.4</text>
<text x="60.3" y="346.5" text-anchor="end" font-size="21">0.6</text>
<text transform="translate(17.9 440.3) rotate(-90)" text-anchor="middle" font-size="23.6">Train Error</text>
<text x="89.3" y="594.7" text-anchor="middle" font-size="21">1</text>
<text x="207.3" y="594.7" text-anchor="middle" font-size="21">10</text>
<text x="325.3" y="594.7" text-anchor="middle" font-size="21">100</text>
<text x="443.3" y="594.7" text-anchor="middle" font-size="21">1k</text>
<text x="301.1" y="627.1" text-anchor="middle" font-size="23.0">Epochs</text>
</g>
<g class="dv" id="A5">
<g class="ln">
<path d="M690.7 362.7L710.5 362.7L745.9 383.8L766.6 402.2L781.3 416L792.7 426L802 434.3L809.9 441.9L816.7 448.8L822.7 455.2L828.1 461.1L833 466.7L837.4 472.1L841.5 477.2L845.3 482.4L848.8 487.5L852.1 492.3L855.2 496.6L858.1 500.8L860.9 504.8L863.5 508.4L866 511.7L868.4 514.8L870.6 517.7L872.8 520.5L874.9 522.9L876.9 525.2L878.8 527.2L880.7 529L882.5 530.7L884.2 532.2L885.9 533.7L887.5 535L889.1 536.2L890.6 537.3L892.1 538.2L893.5 539.1L894.9 540L896.3 540.8L897.6 541.5L898.9 542.2L900.2 542.8L901.4 543.4L903.2 544.2L905.5 545L907.7 545.8L909.8 546.4L911.8 546.9L913.8 547.4L915.6 547.9L917.4 548.3L919.2 548.7L920.9 549.1L922.5 549.5L924.1 549.8L925.6 550.1L927.1 550.4L928.6 550.6L930 550.9L931.3 551.1L932.7 551.2L934 551.4L935.3 551.6L936.5 551.7L938 551.9L939.7 552.1L941.4 552.3L943.1 552.4L944.7 552.6L946.2 552.8L947.7 553L949.2 553.2L950.6 553.3L951.9 553.5L953.3 553.7L954.6 553.8L955.9 554L957.1 554.1L958.5 554.3L960.1 554.5L961.6 554.6L963.1 554.8L964.5 554.9L965.9 555.1L967.3 555.2L968.6 555.3L969.9 555.4L971.1 555.5L972.3 555.6L973.7 555.7L975.1 555.8L976.6 555.9L977.9 556L979.3 556.1L980.6 556.1L981.9 556.2L983.1 556.3L984.4 556.4L985.8 556.4L987.2 556.5L988.6 556.6L989.9 556.6L991.1 556.7L992.4 556.8L993.7 556.8L995.1 556.9L996.4 557L997.7 557L999 557.1L1000.3 557.2L1001.5 557.2L1002.9 557.3L1004.2 557.3L1005.5 557.4L1006.8 557.5L1008 557.5L1009.2 557.6L1010.5 557.6L1011.8 557.7L1013.1 557.7L1014.3 557.8L1015.7 557.8L1016.9 557.8L1018.2 557.9L1019.4 557.9L1020.7 557.9L1021.9 558L1023.2 558L1024.4 558L1025.7 558L1026.9 558L1028.2 558.1L1029.4 558.1L1030.7 558.1L1031.9 558.1L1033.2 558.1L1034.5 558.1L1035.7 558.2L1037 558.2L1038.2 558.2L1039.5 558.2L1040.7 558.2L1042 558.2L1043.2 558.2L1044.4 558.2L1045.7 558.2L1046.9 558.2L1048.2 558.2L1049.4 558.3L1050.6 558.3L1051.8 558.3L1053.1 558.3L1054.3 558.3L1055.5 558.3L1056.8 558.3L1058 558.3L1059.2 558.3L1060.5 558.3L1061.7 558.3L1062.9 558.3L1064.1 558.3L1065.3 558.3L1066.6 558.3L1067.8 558.3L1069 558.3L1070.3 558.3L1071.5 558.3L1072.7 558.3L1073.9 558.4L1075.1 558.4L1076.3 558.4L1077.6 558.4L1078.8 558.4L1080 558.4L1081.2 558.4L1082.4 558.4L1083.7 558.4L1084.9 558.4L1086.1 558.4L1087.3 558.4L1088.5 558.4L1089.7 558.4L1091 558.4L1092.2 558.4L1093.4 558.4L1094.6 558.4L1095.8 558.4L1097 558.4L1098.3 558.4L1099.5 558.4L1100.7 558.4L1101.9 558.4L1103.1 558.4L1104.3 558.4L1105.5 558.4L1106.7 558.4L1108 558.4L1109.2 558.4L1110.4 558.4L1111.6 558.4L1112.8 558.4L1114 558.4L1115.2 558.4L1116.4 558.4L1117.6 558.4L1118.8 558.4L1120.1 558.4L1121.3 558.4L1122.5 558.4L1123.7 558.4L1124.9 558.4L1126.1 558.4L1127.3 558.4L1128.5 558.4L1129.7 558.4L1130.9 558.4L1132.1 558.4L1133.4 558.4L1134 558.4L1134.1 558.4" stroke="#440154" stroke-width="2.6"/>
<path d="M690.7 351.6L710.5 351.6L745.9 369L766.6 383L781.3 394.2L792.7 403.4L802 411.5L809.9 418.9L816.7 425.9L822.7 432.6L828.1 438.9L833 444.6L837.4 449.8L841.5 454.4L845.3 458.7L848.8 462.7L852.1 466.5L855.2 470.1L858.1 473.5L860.9 476.8L863.5 480L866 483.2L868.4 486.6L870.6 489.9L872.8 493.2L874.9 496.5L876.9 499.6L878.8 502.6L880.7 505.6L882.5 508.6L884.2 511.6L885.9 514.5L887.5 517.2L889.1 519.6L890.6 521.8L892.1 523.7L893.5 525.4L894.9 527.1L896.3 528.6L897.6 530L898.9 531.3L900.2 532.5L901.4 533.6L903.2 535.1L905.5 536.8L907.7 538.2L909.8 539.5L911.8 540.6L913.8 541.5L915.6 542.4L917.4 543.1L919.2 543.8L920.9 544.4L922.5 545L924.1 545.5L925.6 545.9L927.1 546.4L928.6 546.8L930 547.2L931.3 547.6L932.7 547.9L934 548.3L935.3 548.6L936.5 548.9L938 549.3L939.7 549.7L941.4 550L943.1 550.4L944.7 550.7L946.2 550.9L947.7 551.2L949.2 551.5L950.6 551.7L951.9 552L953.3 552.2L954.6 552.4L955.9 552.6L957.1 552.8L958.5 553L960.1 553.2L961.6 553.4L963.1 553.6L964.5 553.8L965.9 554L967.3 554.1L968.6 554.3L969.9 554.4L971.1 554.5L972.3 554.6L973.7 554.7L975.1 554.8L976.6 554.9L977.9 555L979.3 555.1L980.6 555.2L981.9 555.3L983.1 555.4L984.4 555.5L985.8 555.6L987.2 555.7L988.6 555.7L989.9 555.8L991.1 555.9L992.4 556L993.7 556L995.1 556.1L996.4 556.2L997.7 556.3L999 556.4L1000.3 556.4L1001.5 556.5L1002.9 556.6L1004.2 556.6L1005.5 556.7L1006.8 556.8L1008 556.8L1009.2 556.9L1010.5 557L1011.8 557L1013.1 557.1L1014.3 557.2L1015.7 557.2L1016.9 557.3L1018.2 557.3L1019.4 557.4L1020.7 557.4L1021.9 557.5L1023.2 557.5L1024.4 557.5L1025.7 557.6L1026.9 557.6L1028.2 557.7L1029.4 557.7L1030.7 557.7L1031.9 557.8L1033.2 557.8L1034.5 557.8L1035.7 557.9L1037 557.9L1038.2 557.9L1039.5 557.9L1040.7 557.9L1042 558L1043.2 558L1044.4 558L1045.7 558L1046.9 558L1048.2 558.1L1049.4 558.1L1050.6 558.1L1051.8 558.1L1053.1 558.1L1054.3 558.1L1055.5 558.1L1056.8 558.2L1058 558.2L1059.2 558.2L1060.5 558.2L1061.7 558.2L1062.9 558.2L1064.1 558.2L1065.3 558.2L1066.6 558.2L1067.8 558.2L1069 558.3L1070.3 558.3L1071.5 558.3L1072.7 558.3L1073.9 558.3L1075.1 558.3L1076.3 558.3L1077.6 558.3L1078.8 558.3L1080 558.3L1081.2 558.3L1082.4 558.3L1083.7 558.3L1084.9 558.3L1086.1 558.3L1087.3 558.3L1088.5 558.3L1089.7 558.3L1091 558.3L1092.2 558.3L1093.4 558.3L1094.6 558.3L1095.8 558.3L1097 558.3L1098.3 558.3L1099.5 558.3L1100.7 558.3L1101.9 558.3L1103.1 558.3L1104.3 558.3L1105.5 558.4L1106.7 558.4L1108 558.4L1109.2 558.4L1110.4 558.4L1111.6 558.4L1112.8 558.4L1114 558.4L1115.2 558.4L1116.4 558.4L1117.6 558.4L1118.8 558.4L1120.1 558.4L1121.3 558.4L1122.5 558.4L1123.7 558.4L1124.9 558.4L1126.1 558.4L1127.3 558.4L1128.5 558.4L1129.7 558.4L1130.9 558.4L1132.1 558.4L1133.4 558.4L1134 558.4L1134.1 558.4" stroke="#2a788e" stroke-width="2.6"/>
<path d="M690.7 344.7L710.5 344.7L745.9 360.1L766.6 371.9L781.3 381.5L792.7 389.5L802 396.5L809.9 402.7L816.7 408.4L822.7 413.7L828.1 418.7L833 423.2L837.4 427.5L841.5 431.4L845.3 435L848.8 438.5L852.1 442L855.2 445.4L858.1 448.7L860.9 451.9L863.5 455.2L866 458.6L868.4 462.2L870.6 465.9L872.8 469.6L874.9 473.4L876.9 477L878.8 480.6L880.7 484.1L882.5 487.7L884.2 491.3L885.9 494.8L887.5 498.1L889.1 501.3L890.6 504.3L892.1 507.1L893.5 509.8L894.9 512.4L896.3 515L897.6 517.5L898.9 519.8L900.2 522L901.4 524L903.2 526.6L905.5 529.4L907.7 531.8L909.8 534L911.8 535.8L913.8 537.4L915.6 538.8L917.4 540L919.2 541L920.9 541.9L922.5 542.7L924.1 543.4L925.6 544L927.1 544.6L928.6 545.1L930 545.6L931.3 546.1L932.7 546.5L934 546.9L935.3 547.3L936.5 547.7L938 548.1L939.7 548.5L941.4 549L943.1 549.3L944.7 549.7L946.2 550L947.7 550.3L949.2 550.5L950.6 550.8L951.9 551.1L953.3 551.3L954.6 551.5L955.9 551.7L957.1 551.9L958.5 552.1L960.1 552.4L961.6 552.6L963.1 552.8L964.5 553L965.9 553.2L967.3 553.3L968.6 553.5L969.9 553.6L971.1 553.7L972.3 553.9L973.7 554L975.1 554.1L976.6 554.3L977.9 554.4L979.3 554.5L980.6 554.6L981.9 554.7L983.1 554.8L984.4 554.9L985.8 555L987.2 555.1L988.6 555.2L989.9 555.3L991.1 555.4L992.4 555.4L993.7 555.5L995.1 555.6L996.4 555.7L997.7 555.8L999 555.8L1000.3 555.9L1001.5 556L1002.9 556.1L1004.2 556.1L1005.5 556.2L1006.8 556.3L1008 556.3L1009.2 556.4L1010.5 556.4L1011.8 556.5L1013.1 556.5L1014.3 556.6L1015.7 556.7L1016.9 556.7L1018.2 556.8L1019.4 556.8L1020.7 556.9L1021.9 556.9L1023.2 557L1024.4 557.1L1025.7 557.1L1026.9 557.2L1028.2 557.2L1029.4 557.3L1030.7 557.4L1031.9 557.4L1033.2 557.5L1034.5 557.5L1035.7 557.6L1037 557.6L1038.2 557.6L1039.5 557.7L1040.7 557.7L1042 557.7L1043.2 557.7L1044.4 557.8L1045.7 557.8L1046.9 557.8L1048.2 557.8L1049.4 557.9L1050.6 557.9L1051.8 557.9L1053.1 557.9L1054.3 557.9L1055.5 558L1056.8 558L1058 558L1059.2 558L1060.5 558L1061.7 558L1062.9 558.1L1064.1 558.1L1065.3 558.1L1066.6 558.1L1067.8 558.1L1069 558.1L1070.3 558.1L1071.5 558.1L1072.7 558.1L1073.9 558.1L1075.1 558.2L1076.3 558.2L1077.6 558.2L1078.8 558.2L1080 558.2L1081.2 558.2L1082.4 558.2L1083.7 558.2L1084.9 558.2L1086.1 558.2L1087.3 558.2L1088.5 558.2L1089.7 558.2L1091 558.2L1092.2 558.2L1093.4 558.2L1094.6 558.3L1095.8 558.3L1097 558.3L1098.3 558.3L1099.5 558.3L1100.7 558.3L1101.9 558.3L1103.1 558.3L1104.3 558.3L1105.5 558.3L1106.7 558.3L1108 558.3L1109.2 558.3L1110.4 558.3L1111.6 558.3L1112.8 558.3L1114 558.3L1115.2 558.3L1116.4 558.3L1117.6 558.3L1118.8 558.3L1120.1 558.3L1121.3 558.3L1122.5 558.3L1123.7 558.3L1124.9 558.3L1126.1 558.3L1127.3 558.3L1128.5 558.3L1129.7 558.3L1130.9 558.3L1132.1 558.3L1133.4 558.3L1134 558.3L1134.1 558.3" stroke="#7ad151" stroke-width="2.6"/>
</g>
<path d="M692.3 570v2.5M699.1 570v2.5M705.1 570v2.5M710.5 570v4.1M745.9 570v2.5M766.6 570v2.5M781.3 570v2.5M792.7 570v2.5M802 570v2.5M809.9 570v2.5M816.7 570v2.5M822.7 570v2.5M828.1 570v4.1M863.5 570v2.5M884.2 570v2.5M898.9 570v2.5M910.3 570v2.5M919.6 570v2.5M927.5 570v2.5M934.3 570v2.5M940.3 570v2.5M945.7 570v4.1M981.1 570v2.5M1001.8 570v2.5M1016.5 570v2.5M1027.9 570v2.5M1037.2 570v2.5M1045.1 570v2.5M1051.9 570v2.5M1057.9 570v2.5M1063.3 570v4.1M1098.7 570v2.5M1119.4 570v2.5M1134.1 570v2.5M1145.5 570v2.5M1154.8 570v2.5M689.4 558.5h-4.2M689.4 506.9h-4.2M689.4 455.4h-4.2M689.4 403.9h-4.2M689.4 352.3h-4.2" stroke="#585858" stroke-width="1.05" fill="none"/>
<rect x="689.4" y="312.6" width="466" height="257.4" stroke="#585858" stroke-width="1.45" fill="none"/>
<text x="681.4" y="566.2" text-anchor="end" font-size="21">0.0</text>
<text x="681.4" y="514.6" text-anchor="end" font-size="21">0.2</text>
<text x="681.4" y="463.1" text-anchor="end" font-size="21">0.4</text>
<text x="681.4" y="411.6" text-anchor="end" font-size="21">0.6</text>
<text x="681.4" y="360" text-anchor="end" font-size="21">0.8</text>
<text transform="translate(639 440.3) rotate(-90)" text-anchor="middle" font-size="23.6">Train Error</text>
<text x="710.5" y="594.7" text-anchor="middle" font-size="21">1</text>
<text x="828.1" y="594.7" text-anchor="middle" font-size="21">10</text>
<text x="945.7" y="594.7" text-anchor="middle" font-size="21">100</text>
<text x="1063.3" y="594.7" text-anchor="middle" font-size="21">1k</text>
<text x="921.8" y="627.1" text-anchor="middle" font-size="23.0">Epochs</text>
</g>
<g class="dv" id="A6">
<g class="ln">
<path d="M1311.1 420.5L1331.2 420.5L1371.8 455.3L1395.5 478.3L1412.4 491.2L1425.4 500L1436.1 506.2L1445.1 511.7L1452.9 516.9L1459.8 521.5L1466 525.5L1471.6 528.8L1476.7 531.7L1481.4 534.3L1485.7 536.8L1489.7 539.1L1493.5 541L1497.1 542.6L1500.4 544.1L1503.6 545.3L1506.6 546.4L1509.4 547.4L1512.2 548.3L1514.8 549L1517.3 549.8L1519.6 550.5L1521.9 551.2L1524.1 551.8L1526.3 552.4L1528.3 553L1530.3 553.4L1532.2 553.8L1534.1 554.2L1535.9 554.6L1537.6 554.9L1539.3 555.2L1541 555.4L1542.6 555.7L1544.2 555.9L1545.7 556.1L1547.2 556.2L1548.6 556.4L1550 556.6L1551.4 556.7L1552.7 556.8L1554.1 556.9L1555.3 557L1556.6 557.1L1557.8 557.2L1559.6 557.2L1561.9 557.3L1564.2 557.4L1566.3 557.5L1568.4 557.6L1570.4 557.6L1572.3 557.7L1574.2 557.7L1576 557.8L1577.8 557.8L1579.5 557.8L1581.2 557.8L1582.8 557.8L1584.3 557.9L1585.9 557.9L1587.4 557.9L1588.8 557.9L1590.2 557.9L1591.6 557.9L1593 557.9L1594.3 557.9L1595.6 557.9L1596.9 557.9L1598.1 557.9L1599.6 557.9L1601.4 557.9L1603.1 557.9L1604.8 557.9L1606.4 557.9L1608 557.9L1609.5 557.9L1611 557.9L1612.4 557.9L1613.9 557.9L1615.3 557.9L1616.6 557.9L1617.9 557.9L1619.2 557.9L1620.5 557.9L1621.7 557.9L1623.2 557.9L1624.7 557.9L1626.3 557.9L1627.8 557.9L1629.2 557.9L1630.6 557.9L1632 557.9L1633.4 557.9L1634.7 557.9L1636 557.9L1637.3 557.9L1638.5 557.9L1639.7 557.9L1641.1 557.9L1642.5 557.9L1644 557.9L1645.3 557.9L1646.7 557.9L1648 557.9L1649.3 557.9L1650.6 557.9L1651.8 557.9L1653.1 557.9L1654.6 557.9L1655.9 557.9L1657.3 557.9L1658.6 557.9L1659.9 557.9L1661.2 557.9L1662.4 557.9L1663.7 557.9L1665.1 557.9L1666.5 557.9L1667.8 557.9L1669.1 557.9L1670.3 557.9L1671.6 557.9L1672.9 557.9L1674.2 557.9L1675.5 557.9L1676.8 557.9L1678.1 557.9L1679.3 557.9L1680.6 557.9L1682 557.9L1683.3 557.9L1684.5 557.9L1685.8 557.9L1687 557.9L1688.3 557.9L1689.6 557.9L1690.8 557.9L1692.1 557.9L1693.3 557.9L1694.5 557.9L1695.8 557.9L1697.1 557.9L1698.3 557.9L1699.6 557.9L1700.9 557.9L1702.1 557.9L1703.4 557.9L1704.6 557.9L1705.9 557.9L1707.1 557.9L1708.4 557.9L1709.6 557.9L1710.9 557.9L1712.1 557.9L1713.4 557.9L1714.6 557.9L1715.9 557.9L1717.1 557.9L1718.3 557.9L1719.6 557.9L1720.8 557.9L1722 557.9L1723.3 557.9L1724.5 557.9L1725.7 557.9L1726.9 557.9L1728.2 557.9L1729.4 557.9L1730.7 557.9L1731.9 557.9L1733.1 557.9L1734.4 557.9L1735.6 557.9L1736.8 557.9L1738 557.9L1739.3 557.9L1740.5 557.9L1741.7 557.9L1742.9 557.9L1744.2 557.9L1745.4 557.9L1746.6 557.9L1747.8 557.9L1749.1 557.9L1750.3 557.9L1751.5 557.9L1752.7 557.9L1753.9 557.9L1754.9 557.9L1755.3 557.9" stroke="#440154" stroke-width="2.6"/>
<path d="M1311.1 396.3L1331.2 396.3L1371.8 424.6L1395.5 442.7L1412.4 454.2L1425.4 462.5L1436.1 468.9L1445.1 473.9L1452.9 478.2L1459.8 482.2L1466 485.6L1471.6 488.3L1476.7 490.7L1481.4 492.8L1485.7 494.8L1489.7 496.7L1493.5 498.4L1497.1 499.9L1500.4 501.4L1503.6 502.8L1506.6 504.1L1509.4 505.2L1512.2 506.4L1514.8 507.4L1517.3 508.5L1519.6 509.6L1521.9 510.6L1524.1 511.6L1526.3 512.6L1528.3 513.7L1530.3 514.8L1532.2 515.9L1534.1 517.1L1535.9 518.4L1537.6 519.6L1539.3 520.9L1541 522.2L1542.6 523.5L1544.2 524.8L1545.7 526.1L1547.2 527.5L1548.6 528.9L1550 530.3L1551.4 531.6L1552.7 532.9L1554.1 534.2L1555.3 535.4L1556.6 536.5L1557.8 537.6L1559.6 539.1L1561.9 541.1L1564.2 542.9L1566.3 544.5L1568.4 546L1570.4 547.3L1572.3 548.5L1574.2 549.6L1576 550.7L1577.8 551.6L1579.5 552.4L1581.2 553.1L1582.8 553.7L1584.3 554.2L1585.9 554.6L1587.4 555L1588.8 555.4L1590.2 555.7L1591.6 556L1593 556.2L1594.3 556.4L1595.6 556.6L1596.9 556.8L1598.1 556.9L1599.6 557L1601.4 557.2L1603.1 557.3L1604.8 557.4L1606.4 557.5L1608 557.6L1609.5 557.6L1611 557.7L1612.4 557.7L1613.9 557.7L1615.3 557.8L1616.6 557.8L1617.9 557.8L1619.2 557.8L1620.5 557.8L1621.7 557.8L1623.2 557.9L1624.7 557.9L1626.3 557.9L1627.8 557.9L1629.2 557.9L1630.6 557.9L1632 557.9L1633.4 557.9L1634.7 557.9L1636 557.9L1637.3 557.9L1638.5 557.9L1639.7 557.9L1641.1 557.9L1642.5 557.9L1644 557.9L1645.3 557.9L1646.7 557.9L1648 557.9L1649.3 557.9L1650.6 557.9L1651.8 557.9L1653.1 557.9L1654.6 557.9L1655.9 557.9L1657.3 557.9L1658.6 557.9L1659.9 557.9L1661.2 557.9L1662.4 557.9L1663.7 557.9L1665.1 557.9L1666.5 557.9L1667.8 557.9L1669.1 557.9L1670.3 557.9L1671.6 557.9L1672.9 557.9L1674.2 557.9L1675.5 557.9L1676.8 557.9L1678.1 557.9L1679.3 557.9L1680.6 557.9L1682 557.9L1683.3 557.9L1684.5 557.9L1685.8 557.9L1687 557.9L1688.3 557.9L1689.6 557.9L1690.8 557.9L1692.1 557.9L1693.3 557.9L1694.5 557.9L1695.8 557.9L1697.1 557.9L1698.3 557.9L1699.6 557.9L1700.9 557.9L1702.1 557.9L1703.4 557.9L1704.6 557.9L1705.9 557.9L1707.1 557.9L1708.4 557.9L1709.6 557.9L1710.9 557.9L1712.1 557.9L1713.4 557.9L1714.6 557.9L1715.9 557.9L1717.1 557.9L1718.3 557.9L1719.6 557.9L1720.8 557.9L1722 557.9L1723.3 557.9L1724.5 557.9L1725.7 557.9L1726.9 557.9L1728.2 557.9L1729.4 557.9L1730.7 557.9L1731.9 557.9L1733.1 557.9L1734.4 557.9L1735.6 557.9L1736.8 557.9L1738 557.9L1739.3 557.9L1740.5 557.9L1741.7 557.9L1742.9 557.9L1744.2 557.9L1745.4 557.9L1746.6 557.9L1747.8 557.9L1749.1 557.9L1750.3 557.9L1751.5 557.9L1752.7 557.9L1753.9 557.9L1754.9 557.9L1755.3 557.9" stroke="#2a788e" stroke-width="2.6"/>
<path d="M1311.1 371.9L1331.2 371.9L1371.8 392.9L1395.5 409.2L1412.4 419.9L1425.4 427.8L1436.1 433.7L1445.1 438.8L1452.9 443.5L1459.8 447.3L1466 450.5L1471.6 453.2L1476.7 455.5L1481.4 457.4L1485.7 459.2L1489.7 460.7L1493.5 462.2L1497.1 463.7L1500.4 465L1503.6 466.3L1506.6 467.3L1509.4 468.3L1512.2 469.1L1514.8 470L1517.3 470.9L1519.6 472L1521.9 473.1L1524.1 474.3L1526.3 475.6L1528.3 476.8L1530.3 478.2L1532.2 479.5L1534.1 481L1535.9 482.5L1537.6 484.1L1539.3 485.7L1541 487.4L1542.6 489L1544.2 490.7L1545.7 492.4L1547.2 494.2L1548.6 496L1550 497.9L1551.4 499.7L1552.7 501.6L1554.1 503.4L1555.3 505.2L1556.6 507L1557.8 508.9L1559.6 511.7L1561.9 515.6L1564.2 519.3L1566.3 522.8L1568.4 526L1570.4 528.9L1572.3 531.7L1574.2 534.4L1576 536.9L1577.8 539.2L1579.5 541.2L1581.2 543L1582.8 544.5L1584.3 545.9L1585.9 547.2L1587.4 548.4L1588.8 549.4L1590.2 550.4L1591.6 551.3L1593 552L1594.3 552.6L1595.6 553.2L1596.9 553.7L1598.1 554.1L1599.6 554.6L1601.4 555.2L1603.1 555.6L1604.8 556L1606.4 556.3L1608 556.5L1609.5 556.7L1611 556.9L1612.4 557L1613.9 557.2L1615.3 557.3L1616.6 557.4L1617.9 557.5L1619.2 557.5L1620.5 557.6L1621.7 557.6L1623.2 557.6L1624.7 557.7L1626.3 557.7L1627.8 557.7L1629.2 557.7L1630.6 557.8L1632 557.8L1633.4 557.8L1634.7 557.8L1636 557.8L1637.3 557.8L1638.5 557.8L1639.7 557.8L1641.1 557.8L1642.5 557.9L1644 557.9L1645.3 557.9L1646.7 557.9L1648 557.9L1649.3 557.9L1650.6 557.9L1651.8 557.9L1653.1 557.9L1654.6 557.9L1655.9 557.9L1657.3 557.9L1658.6 557.9L1659.9 557.9L1661.2 557.9L1662.4 557.9L1663.7 557.9L1665.1 557.9L1666.5 557.9L1667.8 557.9L1669.1 557.9L1670.3 557.9L1671.6 557.9L1672.9 557.9L1674.2 557.9L1675.5 557.9L1676.8 557.9L1678.1 557.9L1679.3 557.9L1680.6 557.9L1682 557.9L1683.3 557.9L1684.5 557.9L1685.8 557.9L1687 557.9L1688.3 557.9L1689.6 557.9L1690.8 557.9L1692.1 557.9L1693.3 557.9L1694.5 557.9L1695.8 557.9L1697.1 557.9L1698.3 557.9L1699.6 557.9L1700.9 557.9L1702.1 557.9L1703.4 557.9L1704.6 557.9L1705.9 557.9L1707.1 557.9L1708.4 557.9L1709.6 557.9L1710.9 557.9L1712.1 557.9L1713.4 557.9L1714.6 557.9L1715.9 557.9L1717.1 557.9L1718.3 557.9L1719.6 557.9L1720.8 557.9L1722 557.9L1723.3 557.9L1724.5 557.9L1725.7 557.9L1726.9 557.9L1728.2 557.9L1729.4 557.9L1730.7 557.9L1731.9 557.9L1733.1 557.9L1734.4 557.9L1735.6 557.9L1736.8 557.9L1738 557.9L1739.3 557.9L1740.5 557.9L1741.7 557.9L1742.9 557.9L1744.2 557.9L1745.4 557.9L1746.6 557.9L1747.8 557.9L1749.1 557.9L1750.3 557.9L1751.5 557.9L1752.7 557.9L1753.9 557.9L1754.9 557.9L1755.3 557.9" stroke="#7ad151" stroke-width="2.6"/>
</g>
<path d="M1310.3 570v2.5M1318.1 570v2.5M1325 570v2.5M1331.2 570v4.1M1371.8 570v2.5M1395.5 570v2.5M1412.4 570v2.5M1425.4 570v2.5M1436.1 570v2.5M1445.1 570v2.5M1452.9 570v2.5M1459.8 570v2.5M1466 570v4.1M1506.6 570v2.5M1530.3 570v2.5M1547.2 570v2.5M1560.2 570v2.5M1570.9 570v2.5M1579.9 570v2.5M1587.7 570v2.5M1594.6 570v2.5M1600.8 570v4.1M1641.4 570v2.5M1665.1 570v2.5M1682 570v2.5M1695 570v2.5M1705.7 570v2.5M1714.7 570v2.5M1722.5 570v2.5M1729.4 570v2.5M1735.6 570v4.1M1776.2 570v2.5M1309.8 558.1h-4.2M1309.8 496.1h-4.2M1309.8 434.1h-4.2M1309.8 372.2h-4.2" stroke="#585858" stroke-width="1.05" fill="none"/>
<rect x="1309.8" y="312.6" width="466.9" height="257.4" stroke="#585858" stroke-width="1.45" fill="none"/>
<text x="1301.8" y="565.8" text-anchor="end" font-size="21">0.0</text>
<text x="1301.8" y="503.8" text-anchor="end" font-size="21">0.2</text>
<text x="1301.8" y="441.8" text-anchor="end" font-size="21">0.4</text>
<text x="1301.8" y="379.9" text-anchor="end" font-size="21">0.6</text>
<text transform="translate(1259.4 440.3) rotate(-90)" text-anchor="middle" font-size="23.6">Train Error</text>
<text x="1331.2" y="594.7" text-anchor="middle" font-size="21">1</text>
<text x="1466" y="594.7" text-anchor="middle" font-size="21">10</text>
<text x="1600.8" y="594.7" text-anchor="middle" font-size="21">100</text>
<text x="1735.6" y="594.7" text-anchor="middle" font-size="21">1k</text>
<text x="1542.7" y="627.1" text-anchor="middle" font-size="23.0">Epochs</text>
</g>
<g class="cap" font-size="43.1" stroke="#000" stroke-width="0.45">
<text x="58.9" y="725.8">(a) ResNet18 on CIFAR10.</text>
<text x="668.2" y="725.8">(b) ResNet18 on CIFAR100.</text>
<text x="1268.2" y="725.8">(c) 5-layer CNN on CIFAR 10.</text>
</g>
</svg></body></html>
